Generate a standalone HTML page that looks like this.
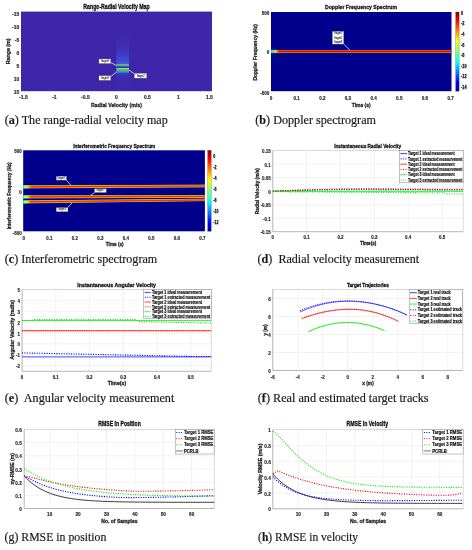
<!DOCTYPE html>
<html lang="en"><head><meta charset="utf-8"><title>Figure</title>
<style>html,body{margin:0;padding:0;background:#fff;}body{width:472px;height:550px;overflow:hidden;}svg{display:block;}</style>
</head><body>
<svg width="472" height="550" viewBox="0 0 472 550" font-family='"Liberation Sans", sans-serif'>
<defs>
<linearGradient id="jet" x1="0" y1="0" x2="0" y2="1">
<stop offset="0" stop-color="#800000"/><stop offset="0.11" stop-color="#ff0000"/><stop offset="0.36" stop-color="#ffff00"/><stop offset="0.5" stop-color="#80ff80"/><stop offset="0.64" stop-color="#00ffff"/><stop offset="0.89" stop-color="#0000ff"/><stop offset="1" stop-color="#00008f"/>
</linearGradient>
<linearGradient id="band" x1="0" y1="0" x2="0" y2="1">
<stop offset="0" stop-color="#00008a" stop-opacity="0"/><stop offset="0.12" stop-color="#00e0ff"/><stop offset="0.22" stop-color="#ffee00"/><stop offset="0.38" stop-color="#ff2000"/><stop offset="0.5" stop-color="#c00000"/><stop offset="0.62" stop-color="#ff2000"/><stop offset="0.78" stop-color="#ffee00"/><stop offset="0.88" stop-color="#00e0ff"/><stop offset="1" stop-color="#00008a" stop-opacity="0"/>
</linearGradient>
<linearGradient id="gband" x1="0" y1="0" x2="0" y2="1">
<stop offset="0" stop-color="#ecd828"/><stop offset="0.1" stop-color="#c8d838"/><stop offset="0.24" stop-color="#58c868"/><stop offset="0.55" stop-color="#28b8a0"/><stop offset="0.8" stop-color="#2894d0"/><stop offset="1" stop-color="#3858d8"/>
</linearGradient>
<linearGradient id="smear" x1="0" y1="0" x2="0" y2="1">
<stop offset="0" stop-color="#4450e0" stop-opacity="0"/><stop offset="0.3" stop-color="#4458e8" stop-opacity="0.15"/><stop offset="0.48" stop-color="#4468f8" stop-opacity="0.45"/><stop offset="0.575" stop-color="#4470ff" stop-opacity="0.7"/><stop offset="0.72" stop-color="#4460f0" stop-opacity="0.3"/><stop offset="0.8" stop-color="#4458e8" stop-opacity="0.1"/><stop offset="1" stop-color="#4450e0" stop-opacity="0.04"/>
</linearGradient>
<radialGradient id="blob"><stop offset="0" stop-color="#60ffd0"/><stop offset="0.5" stop-color="#00d0ff"/><stop offset="1" stop-color="#0040ff" stop-opacity="0"/></radialGradient>
<filter id="allblur" x="0" y="0" width="472" height="550" filterUnits="userSpaceOnUse"><feGaussianBlur stdDeviation="0.25"/></filter>
<filter id="soft" x="-5%" y="-5%" width="110%" height="110%"><feGaussianBlur stdDeviation="0.35"/></filter>
</defs>
<rect width="472" height="550" fill="#fff"/>
<g filter="url(#allblur)">
<rect x="21" y="11.6" width="191" height="79.60000000000001" fill="#3e26a8"/>
<rect x="116.4" y="28" width="12.6" height="63" fill="url(#smear)" filter="url(#soft)"/>
<rect x="116.4" y="66.5" width="12.6" height="1.7" fill="#3e2eb4"/>
<rect x="116.4" y="64.5" width="12.6" height="2.1" fill="url(#gband)"/>
<rect x="116.4" y="68.1" width="12.6" height="4.9" fill="url(#gband)"/>
<line x1="110.6" y1="62.4" x2="116.6" y2="65.6" stroke="#fff" stroke-width="0.7"/>
<rect x="98.9" y="58.9" width="11.899999999999991" height="4.700000000000003" fill="#fff" stroke="#333" stroke-width="0.3"/>
<text transform="translate(104.85 61.25) scale(0.800 1)" font-size="3.09" text-anchor="middle" font-weight="normal" fill="#222" stroke="#222" stroke-width="0.1" dominant-baseline="central">Target3</text>
<line x1="110.6" y1="76.6" x2="116.6" y2="72" stroke="#fff" stroke-width="0.7"/>
<rect x="98.9" y="75.6" width="11.899999999999991" height="4.800000000000011" fill="#fff" stroke="#333" stroke-width="0.3"/>
<text transform="translate(104.85 78.00) scale(0.800 1)" font-size="3.09" text-anchor="middle" font-weight="normal" fill="#222" stroke="#222" stroke-width="0.1" dominant-baseline="central">Target1</text>
<line x1="134.4" y1="73.9" x2="128.9" y2="70" stroke="#fff" stroke-width="0.7"/>
<rect x="134.2" y="73.2" width="12.600000000000023" height="5.0" fill="#fff" stroke="#333" stroke-width="0.3"/>
<text transform="translate(140.50 75.70) scale(0.800 1)" font-size="3.09" text-anchor="middle" font-weight="normal" fill="#222" stroke="#222" stroke-width="0.1" dominant-baseline="central">Target2</text>
<text transform="translate(116.50 6.80) scale(0.829 1)" font-size="6.31" text-anchor="middle" font-weight="bold" fill="#111" stroke="#111" stroke-width="0.28" dominant-baseline="central">Range-Radial Velocity Map</text>
<text transform="translate(19.30 13.40) scale(0.800 1)" font-size="6.25" text-anchor="end" font-weight="bold" fill="#222" stroke="#222" stroke-width="0.15" dominant-baseline="central">-15</text>
<text transform="translate(19.30 26.45) scale(0.800 1)" font-size="6.25" text-anchor="end" font-weight="bold" fill="#222" stroke="#222" stroke-width="0.15" dominant-baseline="central">-10</text>
<text transform="translate(19.30 39.50) scale(0.800 1)" font-size="6.25" text-anchor="end" font-weight="bold" fill="#222" stroke="#222" stroke-width="0.15" dominant-baseline="central">-5</text>
<text transform="translate(19.30 52.55) scale(0.800 1)" font-size="6.25" text-anchor="end" font-weight="bold" fill="#222" stroke="#222" stroke-width="0.15" dominant-baseline="central">0</text>
<text transform="translate(19.30 65.60) scale(0.800 1)" font-size="6.25" text-anchor="end" font-weight="bold" fill="#222" stroke="#222" stroke-width="0.15" dominant-baseline="central">5</text>
<text transform="translate(19.30 78.65) scale(0.800 1)" font-size="6.25" text-anchor="end" font-weight="bold" fill="#222" stroke="#222" stroke-width="0.15" dominant-baseline="central">10</text>
<text transform="translate(19.30 91.70) scale(0.800 1)" font-size="6.25" text-anchor="end" font-weight="bold" fill="#222" stroke="#222" stroke-width="0.15" dominant-baseline="central">15</text>
<text transform="translate(23.40 96.70) scale(0.800 1)" font-size="6.25" text-anchor="middle" font-weight="bold" fill="#222" stroke="#222" stroke-width="0.15" dominant-baseline="central">-1.5</text>
<text transform="translate(54.40 96.70) scale(0.800 1)" font-size="6.25" text-anchor="middle" font-weight="bold" fill="#222" stroke="#222" stroke-width="0.15" dominant-baseline="central">-1</text>
<text transform="translate(85.40 96.70) scale(0.800 1)" font-size="6.25" text-anchor="middle" font-weight="bold" fill="#222" stroke="#222" stroke-width="0.15" dominant-baseline="central">-0.5</text>
<text transform="translate(116.40 96.70) scale(0.800 1)" font-size="6.25" text-anchor="middle" font-weight="bold" fill="#222" stroke="#222" stroke-width="0.15" dominant-baseline="central">0</text>
<text transform="translate(147.40 96.70) scale(0.800 1)" font-size="6.25" text-anchor="middle" font-weight="bold" fill="#222" stroke="#222" stroke-width="0.15" dominant-baseline="central">0.5</text>
<text transform="translate(178.40 96.70) scale(0.800 1)" font-size="6.25" text-anchor="middle" font-weight="bold" fill="#222" stroke="#222" stroke-width="0.15" dominant-baseline="central">1</text>
<text transform="translate(209.40 96.70) scale(0.800 1)" font-size="6.25" text-anchor="middle" font-weight="bold" fill="#222" stroke="#222" stroke-width="0.15" dominant-baseline="central">1.5</text>
<text transform="translate(116.50 104.50) scale(0.864 1)" font-size="6.07" text-anchor="middle" font-weight="bold" fill="#222" stroke="#222" stroke-width="0.28" dominant-baseline="central">Radial Velocity (m/s)</text>
<text transform="translate(7.95 51.40) rotate(-90) scale(0.876 1)" font-size="6.07" text-anchor="middle" font-weight="bold" fill="#222" stroke="#222" stroke-width="0.28" dominant-baseline="central">Range (m)</text>
<text x="4.80" y="124.20" font-size="12" font-family='"Liberation Serif", serif' fill="#1a1a1a" stroke="#1a1a1a" stroke-width="0.18" textLength="163.0" lengthAdjust="spacingAndGlyphs" xml:space="preserve">(<tspan font-weight="bold">a</tspan>) The range-radial velocity map</text>
<rect x="271" y="12" width="180.5" height="79.2" fill="#00008d"/>
<linearGradient id="bh1" gradientUnits="userSpaceOnUse" x1="271" y1="0" x2="280.5" y2="0"><stop offset="0" stop-color="#00c8ff" stop-opacity="0.9"/><stop offset="0.25" stop-color="#30e0c0" stop-opacity="0.8"/><stop offset="0.5" stop-color="#40b0ff" stop-opacity="0.55"/><stop offset="1" stop-color="#2060ff" stop-opacity="0.55"/></linearGradient>
<linearGradient id="by1" gradientUnits="userSpaceOnUse" x1="271" y1="0" x2="280.5" y2="0"><stop offset="0" stop-color="#20e0e0" stop-opacity="1"/><stop offset="0.15" stop-color="#60ffa0" stop-opacity="1"/><stop offset="0.4" stop-color="#ffee00" stop-opacity="1"/><stop offset="1" stop-color="#ffd800" stop-opacity="1"/></linearGradient>
<linearGradient id="bm1" gradientUnits="userSpaceOnUse" x1="271" y1="0" x2="280.5" y2="0"><stop offset="0" stop-color="#20e0e0" stop-opacity="1"/><stop offset="0.2" stop-color="#a0ff60" stop-opacity="1"/><stop offset="0.45" stop-color="#ffe000" stop-opacity="1"/><stop offset="0.8" stop-color="#f85000" stop-opacity="1"/><stop offset="1" stop-color="#f85000" stop-opacity="1"/></linearGradient>
<linearGradient id="bc1" gradientUnits="userSpaceOnUse" x1="271" y1="0" x2="280.5" y2="0"><stop offset="0" stop-color="#40ffc0" stop-opacity="1"/><stop offset="0.25" stop-color="#d0ff30" stop-opacity="1"/><stop offset="0.5" stop-color="#ffd000" stop-opacity="1"/><stop offset="0.85" stop-color="#d41400" stop-opacity="1"/><stop offset="1" stop-color="#d41400" stop-opacity="1"/></linearGradient>
<polygon points="271,49.65 451.5,49.65 451.5,53.15 271,53.15" fill="url(#bh1)"/>
<polygon points="271,50.00 451.5,50.00 451.5,52.80 271,52.80" fill="url(#by1)"/>
<polygon points="271,50.25 451.5,50.25 451.5,52.55 271,52.55" fill="url(#bm1)"/>
<polygon points="271,50.55 451.5,50.55 451.5,52.25 271,52.25" fill="url(#bc1)"/>
<ellipse cx="272.6" cy="51.4" rx="2.2" ry="2.3" fill="url(#blob)" opacity="0.8"/>
<line x1="343.6" y1="44" x2="350" y2="50.2" stroke="#fff" stroke-width="0.7"/>
<rect x="332.3" y="31.2" width="11.5" height="13.000000000000004" fill="#fff" stroke="#333" stroke-width="0.3"/>
<text transform="translate(338.05 33.37) scale(0.800 1)" font-size="3.09" text-anchor="middle" font-weight="normal" fill="#222" stroke="#222" stroke-width="0.1" dominant-baseline="central">Target1</text>
<text transform="translate(338.05 37.70) scale(0.800 1)" font-size="3.09" text-anchor="middle" font-weight="normal" fill="#222" stroke="#222" stroke-width="0.1" dominant-baseline="central">Target2</text>
<text transform="translate(338.05 42.03) scale(0.800 1)" font-size="3.09" text-anchor="middle" font-weight="normal" fill="#222" stroke="#222" stroke-width="0.1" dominant-baseline="central">Target3</text>
<rect x="455.7" y="12" width="3.4" height="79.2" fill="url(#jet)" stroke="#555" stroke-width="0.3"/>
<text transform="translate(461.00 13.00) scale(0.800 1)" font-size="4.88" text-anchor="start" font-weight="bold" fill="#222" stroke="#222" stroke-width="0.28" dominant-baseline="central">0</text>
<text transform="translate(461.00 23.62) scale(0.800 1)" font-size="4.88" text-anchor="start" font-weight="bold" fill="#222" stroke="#222" stroke-width="0.28" dominant-baseline="central">-2</text>
<text transform="translate(461.00 34.24) scale(0.800 1)" font-size="4.88" text-anchor="start" font-weight="bold" fill="#222" stroke="#222" stroke-width="0.28" dominant-baseline="central">-4</text>
<text transform="translate(461.00 44.86) scale(0.800 1)" font-size="4.88" text-anchor="start" font-weight="bold" fill="#222" stroke="#222" stroke-width="0.28" dominant-baseline="central">-6</text>
<text transform="translate(461.00 55.48) scale(0.800 1)" font-size="4.88" text-anchor="start" font-weight="bold" fill="#222" stroke="#222" stroke-width="0.28" dominant-baseline="central">-8</text>
<text transform="translate(461.00 66.10) scale(0.800 1)" font-size="4.88" text-anchor="start" font-weight="bold" fill="#222" stroke="#222" stroke-width="0.28" dominant-baseline="central">-10</text>
<text transform="translate(461.00 76.72) scale(0.800 1)" font-size="4.88" text-anchor="start" font-weight="bold" fill="#222" stroke="#222" stroke-width="0.28" dominant-baseline="central">-12</text>
<text transform="translate(461.00 87.34) scale(0.800 1)" font-size="4.88" text-anchor="start" font-weight="bold" fill="#222" stroke="#222" stroke-width="0.28" dominant-baseline="central">-14</text>
<text transform="translate(361.00 6.70) scale(0.831 1)" font-size="6.19" text-anchor="middle" font-weight="bold" fill="#111" stroke="#111" stroke-width="0.28" dominant-baseline="central">Doppler Frequency Spectrum</text>
<text transform="translate(269.30 12.70) scale(0.800 1)" font-size="5.71" text-anchor="end" font-weight="bold" fill="#222" stroke="#222" stroke-width="0.15" dominant-baseline="central">500</text>
<text transform="translate(269.30 52.10) scale(0.800 1)" font-size="5.71" text-anchor="end" font-weight="bold" fill="#222" stroke="#222" stroke-width="0.15" dominant-baseline="central">0</text>
<text transform="translate(269.30 92.50) scale(0.800 1)" font-size="5.71" text-anchor="end" font-weight="bold" fill="#222" stroke="#222" stroke-width="0.15" dominant-baseline="central">-500</text>
<text transform="translate(271.00 97.30) scale(0.800 1)" font-size="5.71" text-anchor="middle" font-weight="bold" fill="#222" stroke="#222" stroke-width="0.15" dominant-baseline="central">0</text>
<text transform="translate(296.65 97.30) scale(0.800 1)" font-size="5.71" text-anchor="middle" font-weight="bold" fill="#222" stroke="#222" stroke-width="0.15" dominant-baseline="central">0.1</text>
<text transform="translate(322.30 97.30) scale(0.800 1)" font-size="5.71" text-anchor="middle" font-weight="bold" fill="#222" stroke="#222" stroke-width="0.15" dominant-baseline="central">0.2</text>
<text transform="translate(347.95 97.30) scale(0.800 1)" font-size="5.71" text-anchor="middle" font-weight="bold" fill="#222" stroke="#222" stroke-width="0.15" dominant-baseline="central">0.3</text>
<text transform="translate(373.60 97.30) scale(0.800 1)" font-size="5.71" text-anchor="middle" font-weight="bold" fill="#222" stroke="#222" stroke-width="0.15" dominant-baseline="central">0.4</text>
<text transform="translate(399.25 97.30) scale(0.800 1)" font-size="5.71" text-anchor="middle" font-weight="bold" fill="#222" stroke="#222" stroke-width="0.15" dominant-baseline="central">0.5</text>
<text transform="translate(424.90 97.30) scale(0.800 1)" font-size="5.71" text-anchor="middle" font-weight="bold" fill="#222" stroke="#222" stroke-width="0.15" dominant-baseline="central">0.6</text>
<text transform="translate(450.55 97.30) scale(0.800 1)" font-size="5.71" text-anchor="middle" font-weight="bold" fill="#222" stroke="#222" stroke-width="0.15" dominant-baseline="central">0.7</text>
<text transform="translate(361.20 104.60) scale(0.872 1)" font-size="5.71" text-anchor="middle" font-weight="bold" fill="#222" stroke="#222" stroke-width="0.28" dominant-baseline="central">Time (s)</text>
<text transform="translate(255.35 52.40) rotate(-90) scale(0.879 1)" font-size="5.71" text-anchor="middle" font-weight="bold" fill="#222" stroke="#222" stroke-width="0.28" dominant-baseline="central">Doppler Frequency (Hz)</text>
<text x="255.30" y="124.20" font-size="12" font-family='"Liberation Serif", serif' fill="#1a1a1a" stroke="#1a1a1a" stroke-width="0.18" textLength="120.7" lengthAdjust="spacingAndGlyphs" xml:space="preserve">(<tspan font-weight="bold">b</tspan>) Doppler spectrogram</text>
<rect x="23.2" y="150.3" width="181.70000000000002" height="81.0" fill="#00008d"/>
<clipPath id="clipc"><rect x="23.2" y="150.3" width="181.70000000000002" height="81.0"/></clipPath><g clip-path="url(#clipc)">
<linearGradient id="bh2" gradientUnits="userSpaceOnUse" x1="23.2" y1="0" x2="32.7" y2="0"><stop offset="0" stop-color="#00c8ff" stop-opacity="0.9"/><stop offset="0.25" stop-color="#30e0c0" stop-opacity="0.8"/><stop offset="0.5" stop-color="#40b0ff" stop-opacity="0.55"/><stop offset="1" stop-color="#2060ff" stop-opacity="0.55"/></linearGradient>
<linearGradient id="by2" gradientUnits="userSpaceOnUse" x1="23.2" y1="0" x2="32.7" y2="0"><stop offset="0" stop-color="#20e0e0" stop-opacity="1"/><stop offset="0.15" stop-color="#60ffa0" stop-opacity="1"/><stop offset="0.4" stop-color="#ffee00" stop-opacity="1"/><stop offset="1" stop-color="#ffd800" stop-opacity="1"/></linearGradient>
<linearGradient id="bm2" gradientUnits="userSpaceOnUse" x1="23.2" y1="0" x2="32.7" y2="0"><stop offset="0" stop-color="#20e0e0" stop-opacity="1"/><stop offset="0.2" stop-color="#a0ff60" stop-opacity="1"/><stop offset="0.45" stop-color="#ffe000" stop-opacity="1"/><stop offset="0.8" stop-color="#ff8000" stop-opacity="1"/><stop offset="1" stop-color="#ff8000" stop-opacity="1"/></linearGradient>
<linearGradient id="bc2" gradientUnits="userSpaceOnUse" x1="23.2" y1="0" x2="32.7" y2="0"><stop offset="0" stop-color="#40ffc0" stop-opacity="1"/><stop offset="0.25" stop-color="#d0ff30" stop-opacity="1"/><stop offset="0.5" stop-color="#ffd000" stop-opacity="1"/><stop offset="0.85" stop-color="#ec3400" stop-opacity="1"/><stop offset="1" stop-color="#ec3400" stop-opacity="1"/></linearGradient>
<polygon points="23.2,185.05 204.9,184.48 204.9,187.52 23.2,188.75" fill="url(#bh2)"/>
<polygon points="23.2,185.47 204.9,184.83 204.9,187.17 23.2,188.33" fill="url(#by2)"/>
<polygon points="23.2,185.86 204.9,185.14 204.9,186.86 23.2,187.94" fill="url(#bm2)"/>
<polygon points="23.2,186.24 204.9,185.45 204.9,186.55 23.2,187.56" fill="url(#bc2)"/>
<linearGradient id="bh3" gradientUnits="userSpaceOnUse" x1="23.2" y1="0" x2="32.7" y2="0"><stop offset="0" stop-color="#00c8ff" stop-opacity="0.9"/><stop offset="0.25" stop-color="#30e0c0" stop-opacity="0.8"/><stop offset="0.5" stop-color="#40b0ff" stop-opacity="0.55"/><stop offset="1" stop-color="#2060ff" stop-opacity="0.55"/></linearGradient>
<linearGradient id="by3" gradientUnits="userSpaceOnUse" x1="23.2" y1="0" x2="32.7" y2="0"><stop offset="0" stop-color="#20e0e0" stop-opacity="1"/><stop offset="0.15" stop-color="#60ffa0" stop-opacity="1"/><stop offset="0.4" stop-color="#ffee00" stop-opacity="1"/><stop offset="1" stop-color="#ffd800" stop-opacity="1"/></linearGradient>
<linearGradient id="bm3" gradientUnits="userSpaceOnUse" x1="23.2" y1="0" x2="32.7" y2="0"><stop offset="0" stop-color="#20e0e0" stop-opacity="1"/><stop offset="0.2" stop-color="#a0ff60" stop-opacity="1"/><stop offset="0.45" stop-color="#ffe000" stop-opacity="1"/><stop offset="0.8" stop-color="#ff8000" stop-opacity="1"/><stop offset="1" stop-color="#ff8000" stop-opacity="1"/></linearGradient>
<linearGradient id="bc3" gradientUnits="userSpaceOnUse" x1="23.2" y1="0" x2="32.7" y2="0"><stop offset="0" stop-color="#40ffc0" stop-opacity="1"/><stop offset="0.25" stop-color="#d0ff30" stop-opacity="1"/><stop offset="0.5" stop-color="#ffd000" stop-opacity="1"/><stop offset="0.85" stop-color="#ec3400" stop-opacity="1"/><stop offset="1" stop-color="#ec3400" stop-opacity="1"/></linearGradient>
<polygon points="23.2,195.05 204.9,194.98 204.9,198.02 23.2,198.75" fill="url(#bh3)"/>
<polygon points="23.2,195.47 204.9,195.33 204.9,197.67 23.2,198.33" fill="url(#by3)"/>
<polygon points="23.2,195.86 204.9,195.64 204.9,197.36 23.2,197.94" fill="url(#bm3)"/>
<polygon points="23.2,196.24 204.9,195.95 204.9,197.05 23.2,197.56" fill="url(#bc3)"/>
<linearGradient id="bh4" gradientUnits="userSpaceOnUse" x1="23.2" y1="0" x2="32.7" y2="0"><stop offset="0" stop-color="#00c8ff" stop-opacity="0.9"/><stop offset="0.25" stop-color="#30e0c0" stop-opacity="0.8"/><stop offset="0.5" stop-color="#40b0ff" stop-opacity="0.55"/><stop offset="1" stop-color="#2060ff" stop-opacity="0.55"/></linearGradient>
<linearGradient id="by4" gradientUnits="userSpaceOnUse" x1="23.2" y1="0" x2="32.7" y2="0"><stop offset="0" stop-color="#20e0e0" stop-opacity="1"/><stop offset="0.15" stop-color="#60ffa0" stop-opacity="1"/><stop offset="0.4" stop-color="#ffee00" stop-opacity="1"/><stop offset="1" stop-color="#ffd800" stop-opacity="1"/></linearGradient>
<linearGradient id="bm4" gradientUnits="userSpaceOnUse" x1="23.2" y1="0" x2="32.7" y2="0"><stop offset="0" stop-color="#20e0e0" stop-opacity="1"/><stop offset="0.2" stop-color="#a0ff60" stop-opacity="1"/><stop offset="0.45" stop-color="#ffe000" stop-opacity="1"/><stop offset="0.8" stop-color="#ff8000" stop-opacity="1"/><stop offset="1" stop-color="#ff8000" stop-opacity="1"/></linearGradient>
<linearGradient id="bc4" gradientUnits="userSpaceOnUse" x1="23.2" y1="0" x2="32.7" y2="0"><stop offset="0" stop-color="#40ffc0" stop-opacity="1"/><stop offset="0.25" stop-color="#d0ff30" stop-opacity="1"/><stop offset="0.5" stop-color="#ffd000" stop-opacity="1"/><stop offset="0.85" stop-color="#ec3400" stop-opacity="1"/><stop offset="1" stop-color="#ec3400" stop-opacity="1"/></linearGradient>
<polygon points="23.2,200.15 204.9,198.50 204.9,201.30 23.2,203.66" fill="url(#bh4)"/>
<polygon points="23.2,200.55 204.9,198.82 204.9,200.98 23.2,203.25" fill="url(#by4)"/>
<polygon points="23.2,200.91 204.9,199.11 204.9,200.69 23.2,202.89" fill="url(#bm4)"/>
<polygon points="23.2,201.27 204.9,199.40 204.9,200.40 23.2,202.53" fill="url(#bc4)"/>
</g>
<line x1="66.2" y1="180" x2="70.8" y2="185.2" stroke="#fff" stroke-width="0.7"/>
<rect x="56.2" y="176.1" width="10.399999999999991" height="4.099999999999994" fill="#fff" stroke="#333" stroke-width="0.3"/>
<text transform="translate(61.40 178.15) scale(0.800 1)" font-size="2.86" text-anchor="middle" font-weight="normal" fill="#222" stroke="#222" stroke-width="0.1" dominant-baseline="central">Target 1</text>
<line x1="95" y1="192.3" x2="91" y2="195.2" stroke="#fff" stroke-width="0.7"/>
<rect x="94.5" y="188.7" width="11.799999999999997" height="3.9000000000000057" fill="#fff" stroke="#333" stroke-width="0.3"/>
<text transform="translate(100.40 190.65) scale(0.800 1)" font-size="2.86" text-anchor="middle" font-weight="normal" fill="#222" stroke="#222" stroke-width="0.1" dominant-baseline="central">Target 2</text>
<line x1="67.5" y1="207.8" x2="72" y2="203" stroke="#fff" stroke-width="0.7"/>
<rect x="56.2" y="207.5" width="11.799999999999997" height="4.300000000000011" fill="#fff" stroke="#333" stroke-width="0.3"/>
<text transform="translate(62.10 209.65) scale(0.800 1)" font-size="2.86" text-anchor="middle" font-weight="normal" fill="#222" stroke="#222" stroke-width="0.1" dominant-baseline="central">Target 3</text>
<rect x="207.7" y="150.3" width="3.5" height="81.0" fill="url(#jet)" stroke="#555" stroke-width="0.3"/>
<text transform="translate(213.20 156.80) scale(0.800 1)" font-size="4.52" text-anchor="start" font-weight="bold" fill="#222" stroke="#222" stroke-width="0.28" dominant-baseline="central">0</text>
<text transform="translate(213.20 167.70) scale(0.800 1)" font-size="4.52" text-anchor="start" font-weight="bold" fill="#222" stroke="#222" stroke-width="0.28" dominant-baseline="central">-2</text>
<text transform="translate(213.20 178.60) scale(0.800 1)" font-size="4.52" text-anchor="start" font-weight="bold" fill="#222" stroke="#222" stroke-width="0.28" dominant-baseline="central">-4</text>
<text transform="translate(213.20 189.50) scale(0.800 1)" font-size="4.52" text-anchor="start" font-weight="bold" fill="#222" stroke="#222" stroke-width="0.28" dominant-baseline="central">-6</text>
<text transform="translate(213.20 200.40) scale(0.800 1)" font-size="4.52" text-anchor="start" font-weight="bold" fill="#222" stroke="#222" stroke-width="0.28" dominant-baseline="central">-8</text>
<text transform="translate(213.20 211.30) scale(0.800 1)" font-size="4.52" text-anchor="start" font-weight="bold" fill="#222" stroke="#222" stroke-width="0.28" dominant-baseline="central">-10</text>
<text transform="translate(213.20 222.20) scale(0.800 1)" font-size="4.52" text-anchor="start" font-weight="bold" fill="#222" stroke="#222" stroke-width="0.28" dominant-baseline="central">-12</text>
<text transform="translate(114.30 145.40) scale(0.799 1)" font-size="5.95" text-anchor="middle" font-weight="bold" fill="#111" stroke="#111" stroke-width="0.28" dominant-baseline="central">Interferometric Frequency Spectrum</text>
<text transform="translate(21.80 151.20) scale(0.800 1)" font-size="5.59" text-anchor="end" font-weight="bold" fill="#222" stroke="#222" stroke-width="0.15" dominant-baseline="central">500</text>
<text transform="translate(21.80 191.90) scale(0.800 1)" font-size="5.59" text-anchor="end" font-weight="bold" fill="#222" stroke="#222" stroke-width="0.15" dominant-baseline="central">0</text>
<text transform="translate(21.80 232.70) scale(0.800 1)" font-size="5.59" text-anchor="end" font-weight="bold" fill="#222" stroke="#222" stroke-width="0.15" dominant-baseline="central">-500</text>
<text transform="translate(23.80 237.30) scale(0.800 1)" font-size="5.59" text-anchor="middle" font-weight="bold" fill="#222" stroke="#222" stroke-width="0.15" dominant-baseline="central">0</text>
<text transform="translate(49.30 237.30) scale(0.800 1)" font-size="5.59" text-anchor="middle" font-weight="bold" fill="#222" stroke="#222" stroke-width="0.15" dominant-baseline="central">0.1</text>
<text transform="translate(74.80 237.30) scale(0.800 1)" font-size="5.59" text-anchor="middle" font-weight="bold" fill="#222" stroke="#222" stroke-width="0.15" dominant-baseline="central">0.2</text>
<text transform="translate(100.30 237.30) scale(0.800 1)" font-size="5.59" text-anchor="middle" font-weight="bold" fill="#222" stroke="#222" stroke-width="0.15" dominant-baseline="central">0.3</text>
<text transform="translate(125.80 237.30) scale(0.800 1)" font-size="5.59" text-anchor="middle" font-weight="bold" fill="#222" stroke="#222" stroke-width="0.15" dominant-baseline="central">0.4</text>
<text transform="translate(151.30 237.30) scale(0.800 1)" font-size="5.59" text-anchor="middle" font-weight="bold" fill="#222" stroke="#222" stroke-width="0.15" dominant-baseline="central">0.5</text>
<text transform="translate(176.80 237.30) scale(0.800 1)" font-size="5.59" text-anchor="middle" font-weight="bold" fill="#222" stroke="#222" stroke-width="0.15" dominant-baseline="central">0.6</text>
<text transform="translate(202.30 237.30) scale(0.800 1)" font-size="5.59" text-anchor="middle" font-weight="bold" fill="#222" stroke="#222" stroke-width="0.15" dominant-baseline="central">0.7</text>
<text transform="translate(114.70 243.80) scale(0.834 1)" font-size="5.59" text-anchor="middle" font-weight="bold" fill="#222" stroke="#222" stroke-width="0.28" dominant-baseline="central">Time (s)</text>
<text transform="translate(9.05 195.90) rotate(-90) scale(0.841 1)" font-size="5.47" text-anchor="middle" font-weight="bold" fill="#222" stroke="#222" stroke-width="0.28" dominant-baseline="central">Interferometric Frequency (Hz)</text>
<text x="4.80" y="263.00" font-size="12" font-family='"Liberation Serif", serif' fill="#1a1a1a" stroke="#1a1a1a" stroke-width="0.18" textLength="152.4" lengthAdjust="spacingAndGlyphs" xml:space="preserve">(<tspan font-weight="bold">c</tspan>) Interferometric spectrogram</text>
<rect x="272.8" y="150.5" width="190.39999999999998" height="81.19999999999999" fill="#fff"/>
<line x1="306.65" y1="150.5" x2="306.65" y2="231.7" stroke="#e4e4e4" stroke-width="0.5"/>
<line x1="340.50" y1="150.5" x2="340.50" y2="231.7" stroke="#e4e4e4" stroke-width="0.5"/>
<line x1="374.35" y1="150.5" x2="374.35" y2="231.7" stroke="#e4e4e4" stroke-width="0.5"/>
<line x1="408.20" y1="150.5" x2="408.20" y2="231.7" stroke="#e4e4e4" stroke-width="0.5"/>
<line x1="442.05" y1="150.5" x2="442.05" y2="231.7" stroke="#e4e4e4" stroke-width="0.5"/>
<line x1="272.8" y1="164.03" x2="463.2" y2="164.03" stroke="#e4e4e4" stroke-width="0.5"/>
<line x1="272.8" y1="177.56" x2="463.2" y2="177.56" stroke="#e4e4e4" stroke-width="0.5"/>
<line x1="272.8" y1="191.09" x2="463.2" y2="191.09" stroke="#e4e4e4" stroke-width="0.5"/>
<line x1="272.8" y1="204.62" x2="463.2" y2="204.62" stroke="#e4e4e4" stroke-width="0.5"/>
<line x1="272.8" y1="218.15" x2="463.2" y2="218.15" stroke="#e4e4e4" stroke-width="0.5"/>
<path d="M272.80,191.20 L275.98,191.20 L279.15,191.20 L282.33,191.20 L285.51,191.20 L288.68,191.20 L291.86,191.20 L295.03,191.20 L298.21,191.20 L301.39,191.20 L304.56,191.20 L307.74,191.20 L310.92,191.20 L314.09,191.20 L317.27,191.20 L320.44,191.20 L323.62,191.20 L326.80,191.20 L329.97,191.20 L333.15,191.20 L336.33,191.20 L339.50,191.20 L342.68,191.20 L345.85,191.20 L349.03,191.20 L352.21,191.20 L355.38,191.20 L358.56,191.20 L361.74,191.20 L364.91,191.20 L368.09,191.20 L371.26,191.20 L374.44,191.20 L377.62,191.20 L380.79,191.20 L383.97,191.20 L387.15,191.20 L390.32,191.20 L393.50,191.20 L396.67,191.20 L399.85,191.20 L403.03,191.20 L406.20,191.20 L409.38,191.20 L412.56,191.20 L415.73,191.20 L418.91,191.20 L422.08,191.20 L425.26,191.20 L428.44,191.20 L431.61,191.20 L434.79,191.20 L437.97,191.20 L441.14,191.20 L444.32,191.20 L447.49,191.20 L450.67,191.20 L453.85,191.20 L457.02,191.20 L460.20,191.20 L463.38,191.20" fill="none" stroke="#00f000" stroke-width="1.0" stroke-linejoin="round" opacity="1"/>
<path d="M272.80,191.20 L275.98,191.09 L279.15,190.98 L282.33,190.87 L285.51,190.76 L288.68,190.65 L291.86,190.54 L295.03,190.44 L298.21,190.34 L301.39,190.24 L304.56,190.15 L307.74,190.06 L310.92,189.97 L314.09,189.89 L317.27,189.81 L320.44,189.73 L323.62,189.67 L326.80,189.60 L329.97,189.55 L333.15,189.49 L336.33,189.45 L339.50,189.41 L342.68,189.38 L345.85,189.35 L349.03,189.33 L352.21,189.31 L355.38,189.31 L358.56,189.31 L361.74,189.31 L364.91,189.31 L368.09,189.31 L371.26,189.31 L374.44,189.31 L377.62,189.32 L380.79,189.34 L383.97,189.36 L387.15,189.37 L390.32,189.39 L393.50,189.41 L396.67,189.43 L399.85,189.44 L403.03,189.46 L406.20,189.48 L409.38,189.49 L412.56,189.51 L415.73,189.53 L418.91,189.55 L422.08,189.56 L425.26,189.58 L428.44,189.60 L431.61,189.61 L434.79,189.63 L437.97,189.65 L441.14,189.67 L444.32,189.68 L447.49,189.70 L450.67,189.72 L453.85,189.73 L457.02,189.75 L460.20,189.77 L463.38,189.78" fill="none" stroke="#0000ff" stroke-width="1.1" stroke-dasharray="1.1 1.35" stroke-linejoin="round" opacity="1"/>
<path d="M272.80,191.20 L275.98,191.06 L279.15,190.93 L282.33,190.80 L285.51,190.66 L288.68,190.53 L291.86,190.40 L295.03,190.28 L298.21,190.15 L301.39,190.04 L304.56,189.92 L307.74,189.81 L310.92,189.71 L314.09,189.60 L317.27,189.51 L320.44,189.42 L323.62,189.34 L326.80,189.26 L329.97,189.19 L333.15,189.13 L336.33,189.07 L339.50,189.03 L342.68,188.99 L345.85,188.95 L349.03,188.93 L352.21,188.91 L355.38,188.90 L358.56,188.90 L361.74,188.90 L364.91,188.90 L368.09,188.90 L371.26,188.90 L374.44,188.90 L377.62,188.92 L380.79,188.93 L383.97,188.95 L387.15,188.97 L390.32,188.98 L393.50,189.00 L396.67,189.02 L399.85,189.03 L403.03,189.05 L406.20,189.07 L409.38,189.08 L412.56,189.10 L415.73,189.12 L418.91,189.13 L422.08,189.15 L425.26,189.17 L428.44,189.18 L431.61,189.20 L434.79,189.22 L437.97,189.23 L441.14,189.25 L444.32,189.27 L447.49,189.28 L450.67,189.30 L453.85,189.32 L457.02,189.33 L460.20,189.35 L463.38,189.37" fill="none" stroke="#ff0000" stroke-width="1.1" stroke-dasharray="1.1 1.35" stroke-linejoin="round" opacity="1"/>
<path d="M272.80,191.74 L275.98,191.76 L279.15,191.78 L282.33,191.80 L285.51,191.82 L288.68,191.84 L291.86,191.86 L295.03,191.88 L298.21,191.90 L301.39,191.92 L304.56,191.94 L307.74,191.96 L310.92,191.98 L314.09,192.01 L317.27,192.03 L320.44,192.05 L323.62,192.07 L326.80,192.09 L329.97,192.11 L333.15,192.13 L336.33,192.15 L339.50,192.17 L342.68,192.19 L345.85,192.21 L349.03,192.23 L352.21,192.25 L355.38,192.27 L358.56,192.29 L361.74,192.31 L364.91,192.33 L368.09,192.35 L371.26,192.37 L374.44,192.39 L377.62,192.41 L380.79,192.43 L383.97,192.45 L387.15,192.47 L390.32,192.49 L393.50,192.51 L396.67,192.53 L399.85,192.55 L403.03,192.57 L406.20,192.59 L409.38,192.61 L412.56,192.63 L415.73,192.66 L418.91,192.68 L422.08,192.70 L425.26,192.72 L428.44,192.74 L431.61,192.76 L434.79,192.78 L437.97,192.80 L441.14,192.82 L444.32,192.84 L447.49,193.94 L450.67,193.96 L453.85,193.98 L457.02,194.00 L460.20,194.02 L463.38,194.04" fill="none" stroke="#00ee00" stroke-width="1.1" stroke-dasharray="1.1 1.35" stroke-linejoin="round" opacity="1"/>
<path d="M272.8,150.5 L463.2,150.5 L463.2,231.7" fill="none" stroke="#b4b4b4" stroke-width="0.5"/>
<path d="M272.8,150.5 L272.8,231.7 L463.2,231.7" fill="none" stroke="#6a6a6a" stroke-width="0.5"/>
<rect x="399.6" y="150.5" width="63.5" height="32.30000000000001" fill="#fff" stroke="#777" stroke-width="0.45"/>
<line x1="400.3" y1="153.60" x2="406.9" y2="153.60" stroke="#0000ff" stroke-width="0.75"/>
<text transform="translate(408.00 153.60) scale(0.740 1)" font-size="4.80" text-anchor="start" font-weight="bold" fill="#111" stroke="#111" stroke-width="0.2" dominant-baseline="central">Target 1 ideal measurement</text>
<line x1="400.3" y1="158.88" x2="406.9" y2="158.88" stroke="#0000ff" stroke-width="1.0" stroke-dasharray="1.0 1.4" stroke-dashoffset="-0.3"/>
<text transform="translate(408.00 158.88) scale(0.740 1)" font-size="4.80" text-anchor="start" font-weight="bold" fill="#111" stroke="#111" stroke-width="0.2" dominant-baseline="central">Target 1 extracted measurement</text>
<line x1="400.3" y1="164.16" x2="406.9" y2="164.16" stroke="#ff0000" stroke-width="0.75"/>
<text transform="translate(408.00 164.16) scale(0.740 1)" font-size="4.80" text-anchor="start" font-weight="bold" fill="#111" stroke="#111" stroke-width="0.2" dominant-baseline="central">Target 2 ideal measurement</text>
<line x1="400.3" y1="169.44" x2="406.9" y2="169.44" stroke="#ff0000" stroke-width="1.0" stroke-dasharray="1.0 1.4" stroke-dashoffset="-0.3"/>
<text transform="translate(408.00 169.44) scale(0.740 1)" font-size="4.80" text-anchor="start" font-weight="bold" fill="#111" stroke="#111" stroke-width="0.2" dominant-baseline="central">Target 2 extracted measurement</text>
<line x1="400.3" y1="174.72" x2="406.9" y2="174.72" stroke="#00ee00" stroke-width="0.75"/>
<text transform="translate(408.00 174.72) scale(0.740 1)" font-size="4.80" text-anchor="start" font-weight="bold" fill="#111" stroke="#111" stroke-width="0.2" dominant-baseline="central">Target 3 ideal measurement</text>
<line x1="400.3" y1="180.00" x2="406.9" y2="180.00" stroke="#00ee00" stroke-width="1.0" stroke-dasharray="1.0 1.4" stroke-dashoffset="-0.3"/>
<text transform="translate(408.00 180.00) scale(0.740 1)" font-size="4.80" text-anchor="start" font-weight="bold" fill="#111" stroke="#111" stroke-width="0.2" dominant-baseline="central">Target 3 extracted measurement</text>
<text transform="translate(367.60 145.40) scale(0.798 1)" font-size="5.95" text-anchor="middle" font-weight="bold" fill="#111" stroke="#111" stroke-width="0.28" dominant-baseline="central">Instantaneous Radial Velocity</text>
<text transform="translate(270.80 150.90) scale(0.800 1)" font-size="5.59" text-anchor="end" font-weight="bold" fill="#222" stroke="#222" stroke-width="0.15" dominant-baseline="central">0.15</text>
<text transform="translate(270.80 164.43) scale(0.800 1)" font-size="5.59" text-anchor="end" font-weight="bold" fill="#222" stroke="#222" stroke-width="0.15" dominant-baseline="central">0.1</text>
<text transform="translate(270.80 177.96) scale(0.800 1)" font-size="5.59" text-anchor="end" font-weight="bold" fill="#222" stroke="#222" stroke-width="0.15" dominant-baseline="central">0.05</text>
<text transform="translate(270.80 191.49) scale(0.800 1)" font-size="5.59" text-anchor="end" font-weight="bold" fill="#222" stroke="#222" stroke-width="0.15" dominant-baseline="central">0</text>
<text transform="translate(270.80 205.02) scale(0.800 1)" font-size="5.59" text-anchor="end" font-weight="bold" fill="#222" stroke="#222" stroke-width="0.15" dominant-baseline="central">-0.05</text>
<text transform="translate(270.80 218.55) scale(0.800 1)" font-size="5.59" text-anchor="end" font-weight="bold" fill="#222" stroke="#222" stroke-width="0.15" dominant-baseline="central">-0.1</text>
<text transform="translate(270.80 232.08) scale(0.800 1)" font-size="5.59" text-anchor="end" font-weight="bold" fill="#222" stroke="#222" stroke-width="0.15" dominant-baseline="central">-0.15</text>
<text transform="translate(272.80 237.20) scale(0.800 1)" font-size="5.59" text-anchor="middle" font-weight="bold" fill="#222" stroke="#222" stroke-width="0.15" dominant-baseline="central">0</text>
<text transform="translate(306.65 237.20) scale(0.800 1)" font-size="5.59" text-anchor="middle" font-weight="bold" fill="#222" stroke="#222" stroke-width="0.15" dominant-baseline="central">0.1</text>
<text transform="translate(340.50 237.20) scale(0.800 1)" font-size="5.59" text-anchor="middle" font-weight="bold" fill="#222" stroke="#222" stroke-width="0.15" dominant-baseline="central">0.2</text>
<text transform="translate(374.35 237.20) scale(0.800 1)" font-size="5.59" text-anchor="middle" font-weight="bold" fill="#222" stroke="#222" stroke-width="0.15" dominant-baseline="central">0.3</text>
<text transform="translate(408.20 237.20) scale(0.800 1)" font-size="5.59" text-anchor="middle" font-weight="bold" fill="#222" stroke="#222" stroke-width="0.15" dominant-baseline="central">0.4</text>
<text transform="translate(442.05 237.20) scale(0.800 1)" font-size="5.59" text-anchor="middle" font-weight="bold" fill="#222" stroke="#222" stroke-width="0.15" dominant-baseline="central">0.5</text>
<text transform="translate(368.10 243.30) scale(0.834 1)" font-size="5.59" text-anchor="middle" font-weight="bold" fill="#222" stroke="#222" stroke-width="0.28" dominant-baseline="central">Time(s)</text>
<text transform="translate(256.75 191.10) rotate(-90) scale(0.849 1)" font-size="5.59" text-anchor="middle" font-weight="bold" fill="#222" stroke="#222" stroke-width="0.28" dominant-baseline="central">Radial Velocity (m/s)</text>
<text x="257.60" y="262.90" font-size="12" font-family='"Liberation Serif", serif' fill="#1a1a1a" stroke="#1a1a1a" stroke-width="0.18" textLength="161.6" lengthAdjust="spacingAndGlyphs" xml:space="preserve">(<tspan font-weight="bold">d</tspan>)  Radial velocity measurement</text>
<rect x="22" y="289.5" width="189.3" height="81.80000000000001" fill="#fff"/>
<line x1="55.75" y1="289.5" x2="55.75" y2="371.3" stroke="#e4e4e4" stroke-width="0.5"/>
<line x1="89.50" y1="289.5" x2="89.50" y2="371.3" stroke="#e4e4e4" stroke-width="0.5"/>
<line x1="123.25" y1="289.5" x2="123.25" y2="371.3" stroke="#e4e4e4" stroke-width="0.5"/>
<line x1="157.00" y1="289.5" x2="157.00" y2="371.3" stroke="#e4e4e4" stroke-width="0.5"/>
<line x1="190.75" y1="289.5" x2="190.75" y2="371.3" stroke="#e4e4e4" stroke-width="0.5"/>
<line x1="22" y1="300.37" x2="211.3" y2="300.37" stroke="#e4e4e4" stroke-width="0.5"/>
<line x1="22" y1="311.24" x2="211.3" y2="311.24" stroke="#e4e4e4" stroke-width="0.5"/>
<line x1="22" y1="322.11" x2="211.3" y2="322.11" stroke="#e4e4e4" stroke-width="0.5"/>
<line x1="22" y1="332.98" x2="211.3" y2="332.98" stroke="#e4e4e4" stroke-width="0.5"/>
<line x1="22" y1="343.85" x2="211.3" y2="343.85" stroke="#e4e4e4" stroke-width="0.5"/>
<line x1="22" y1="354.72" x2="211.3" y2="354.72" stroke="#e4e4e4" stroke-width="0.5"/>
<line x1="22" y1="365.59" x2="211.3" y2="365.59" stroke="#e4e4e4" stroke-width="0.5"/>
<path d="M22.00,320.48 L25.16,320.48 L28.31,320.48 L31.47,320.48 L34.62,320.48 L37.78,320.48 L40.93,320.48 L44.09,320.48 L47.25,320.48 L50.40,320.48 L53.56,320.48 L56.71,320.48 L59.87,320.48 L63.02,320.48 L66.18,320.48 L69.33,320.48 L72.49,320.48 L75.65,320.48 L78.80,320.48 L81.96,320.48 L85.11,320.48 L88.27,320.48 L91.42,320.48 L94.58,320.48 L97.74,320.48 L100.89,320.48 L104.05,320.48 L107.20,320.48 L110.36,320.48 L113.51,320.48 L116.67,320.48 L119.82,320.48 L122.98,320.48 L126.14,320.48 L129.29,320.48 L132.45,320.48 L135.60,320.48 L138.76,320.48 L141.91,320.48 L145.07,320.48 L148.23,320.48 L151.38,320.48 L154.54,320.48 L157.69,320.48 L160.85,320.48 L164.00,320.48 L167.16,320.48 L170.31,320.48 L173.47,320.48 L176.63,320.48 L179.78,320.48 L182.94,320.48 L186.09,320.48 L189.25,320.48 L192.40,320.48 L195.56,320.48 L198.72,320.48 L201.87,320.48 L205.03,320.48 L208.18,320.48 L211.34,320.48" fill="none" stroke="#00f000" stroke-width="0.8" stroke-linejoin="round" opacity="1"/>
<path d="M22.00,330.81 L25.16,330.81 L28.31,330.81 L31.47,330.81 L34.62,330.81 L37.78,330.81 L40.93,330.81 L44.09,330.81 L47.25,330.81 L50.40,330.81 L53.56,330.81 L56.71,330.81 L59.87,330.81 L63.02,330.81 L66.18,330.81 L69.33,330.81 L72.49,330.81 L75.65,330.81 L78.80,330.81 L81.96,330.81 L85.11,330.81 L88.27,330.81 L91.42,330.81 L94.58,330.81 L97.74,330.81 L100.89,330.81 L104.05,330.81 L107.20,330.81 L110.36,330.81 L113.51,330.81 L116.67,330.81 L119.82,330.81 L122.98,330.81 L126.14,330.81 L129.29,330.81 L132.45,330.81 L135.60,330.81 L138.76,330.81 L141.91,330.81 L145.07,330.81 L148.23,330.81 L151.38,330.81 L154.54,330.81 L157.69,330.81 L160.85,330.81 L164.00,330.81 L167.16,330.81 L170.31,330.81 L173.47,330.81 L176.63,330.81 L179.78,330.81 L182.94,330.81 L186.09,330.81 L189.25,330.81 L192.40,330.81 L195.56,330.81 L198.72,330.81 L201.87,330.81 L205.03,330.81 L208.18,330.81 L211.34,330.81" fill="none" stroke="#ff1010" stroke-width="0.8" stroke-linejoin="round" opacity="1"/>
<path d="M22.00,356.89 L25.16,356.89 L28.31,356.89 L31.47,356.89 L34.62,356.89 L37.78,356.89 L40.93,356.89 L44.09,356.89 L47.25,356.89 L50.40,356.89 L53.56,356.89 L56.71,356.89 L59.87,356.89 L63.02,356.89 L66.18,356.89 L69.33,356.89 L72.49,356.89 L75.65,356.89 L78.80,356.89 L81.96,356.89 L85.11,356.89 L88.27,356.89 L91.42,356.89 L94.58,356.89 L97.74,356.89 L100.89,356.89 L104.05,356.89 L107.20,356.89 L110.36,356.89 L113.51,356.89 L116.67,356.89 L119.82,356.89 L122.98,356.89 L126.14,356.89 L129.29,356.89 L132.45,356.89 L135.60,356.89 L138.76,356.89 L141.91,356.89 L145.07,356.89 L148.23,356.89 L151.38,356.89 L154.54,356.89 L157.69,356.89 L160.85,356.89 L164.00,356.89 L167.16,356.89 L170.31,356.89 L173.47,356.89 L176.63,356.89 L179.78,356.89 L182.94,356.89 L186.09,356.89 L189.25,356.89 L192.40,356.89 L195.56,356.89 L198.72,356.89 L201.87,356.89 L205.03,356.89 L208.18,356.89 L211.34,356.89" fill="none" stroke="#1010ff" stroke-width="0.8" stroke-linejoin="round" opacity="1"/>
<path d="M22.00,320.48 L25.16,320.48 L28.31,320.48 L31.47,320.48 L34.62,319.61 L37.78,319.61 L40.93,319.61 L44.09,319.61 L47.25,319.61 L50.40,319.61 L53.56,319.61 L56.71,319.61 L59.87,319.61 L63.02,319.61 L66.18,319.61 L69.33,319.61 L72.49,319.61 L75.65,319.61 L78.80,319.61 L81.96,319.61 L85.11,319.61 L88.27,319.61 L91.42,319.61 L94.58,319.61 L97.74,319.61 L100.89,319.61 L104.05,319.61 L107.20,319.61 L110.36,319.61 L113.51,319.61 L116.67,319.61 L119.82,319.61 L122.98,319.61 L126.14,319.61 L129.29,319.61 L132.45,319.61 L135.60,319.61 L138.76,321.57 L141.91,321.64 L145.07,321.71 L148.23,321.77 L151.38,321.84 L154.54,321.90 L157.69,321.97 L160.85,322.04 L164.00,322.10 L167.16,322.17 L170.31,322.24 L173.47,322.30 L176.63,322.37 L179.78,322.43 L182.94,322.50 L186.09,322.57 L189.25,322.63 L192.40,322.70 L195.56,322.76 L198.72,322.83 L201.87,322.90 L205.03,322.96 L208.18,323.03 L211.34,323.10" fill="none" stroke="#00ee00" stroke-width="1.1" stroke-dasharray="1.1 1.35" stroke-linejoin="round" opacity="1"/>
<path d="M22.00,330.59 L25.16,330.59 L28.31,330.59 L31.47,330.59 L34.62,330.59 L37.78,330.59 L40.93,330.59 L44.09,330.59 L47.25,330.59 L50.40,330.59 L53.56,330.59 L56.71,330.59 L59.87,330.59 L63.02,330.59 L66.18,330.59 L69.33,330.59 L72.49,330.59 L75.65,330.59 L78.80,330.59 L81.96,330.59 L85.11,330.59 L88.27,330.59 L91.42,330.59 L94.58,330.59 L97.74,330.59 L100.89,330.59 L104.05,330.59 L107.20,330.59 L110.36,330.59 L113.51,330.59 L116.67,330.59 L119.82,330.59 L122.98,330.59 L126.14,330.59 L129.29,330.59 L132.45,330.59 L135.60,330.59 L138.76,330.59 L141.91,330.59 L145.07,330.59 L148.23,330.59 L151.38,330.59 L154.54,330.59 L157.69,330.59 L160.85,330.59 L164.00,330.59 L167.16,330.59 L170.31,330.59 L173.47,330.59 L176.63,330.59 L179.78,330.59 L182.94,330.59 L186.09,330.59 L189.25,330.59 L192.40,330.59 L195.56,330.59 L198.72,330.59 L201.87,330.59 L205.03,330.59 L208.18,330.59 L211.34,330.59" fill="none" stroke="#ff0000" stroke-width="0.9" stroke-dasharray="1.0 1.3" stroke-linejoin="round" opacity="1"/>
<path d="M22.00,352.87 L25.16,352.94 L28.31,353.01 L31.47,353.07 L34.62,353.14 L37.78,353.21 L40.93,353.27 L44.09,353.34 L47.25,353.41 L50.40,353.48 L53.56,353.54 L56.71,353.61 L59.87,353.68 L63.02,353.74 L66.18,353.81 L69.33,353.88 L72.49,353.95 L75.65,354.01 L78.80,354.08 L81.96,354.15 L85.11,354.21 L88.27,354.28 L91.42,354.35 L94.58,354.41 L97.74,354.48 L100.89,354.55 L104.05,354.62 L107.20,354.68 L110.36,354.75 L113.51,354.82 L116.67,354.88 L119.82,354.95 L122.98,355.02 L126.14,355.09 L129.29,355.15 L132.45,355.22 L135.60,355.29 L138.76,355.35 L141.91,355.42 L145.07,355.49 L148.23,355.56 L151.38,355.62 L154.54,355.69 L157.69,355.76 L160.85,355.82 L164.00,355.89 L167.16,355.96 L170.31,356.02 L173.47,356.09 L176.63,356.16 L179.78,356.23 L182.94,356.29 L186.09,356.36 L189.25,356.43 L192.40,356.46 L195.56,356.46 L198.72,356.46 L201.87,356.46 L205.03,356.46 L208.18,356.46 L211.34,356.46" fill="none" stroke="#0000ff" stroke-width="1.1" stroke-dasharray="1.1 1.35" stroke-linejoin="round" opacity="1"/>
<path d="M22,289.5 L211.3,289.5 L211.3,371.3" fill="none" stroke="#b4b4b4" stroke-width="0.5"/>
<path d="M22,289.5 L22,371.3 L211.3,371.3" fill="none" stroke="#6a6a6a" stroke-width="0.5"/>
<rect x="143.5" y="289.5" width="67.69999999999999" height="29.100000000000023" fill="#fff" stroke="#777" stroke-width="0.45"/>
<line x1="144.5" y1="292.40" x2="150.8" y2="292.40" stroke="#0000ff" stroke-width="0.75"/>
<text transform="translate(151.90 292.40) scale(0.796 1)" font-size="4.80" text-anchor="start" font-weight="bold" fill="#111" stroke="#111" stroke-width="0.2" dominant-baseline="central">Target 1 ideal measurement</text>
<line x1="144.5" y1="297.23" x2="150.8" y2="297.23" stroke="#0000ff" stroke-width="1.0" stroke-dasharray="1.0 1.4" stroke-dashoffset="-0.3"/>
<text transform="translate(151.90 297.23) scale(0.796 1)" font-size="4.80" text-anchor="start" font-weight="bold" fill="#111" stroke="#111" stroke-width="0.2" dominant-baseline="central">Target 1 extracted measurement</text>
<line x1="144.5" y1="302.06" x2="150.8" y2="302.06" stroke="#ff0000" stroke-width="0.75"/>
<text transform="translate(151.90 302.06) scale(0.796 1)" font-size="4.80" text-anchor="start" font-weight="bold" fill="#111" stroke="#111" stroke-width="0.2" dominant-baseline="central">Target 2 ideal measurement</text>
<line x1="144.5" y1="306.89" x2="150.8" y2="306.89" stroke="#ff0000" stroke-width="1.0" stroke-dasharray="1.0 1.4" stroke-dashoffset="-0.3"/>
<text transform="translate(151.90 306.89) scale(0.796 1)" font-size="4.80" text-anchor="start" font-weight="bold" fill="#111" stroke="#111" stroke-width="0.2" dominant-baseline="central">Target 2 extracted measurement</text>
<line x1="144.5" y1="311.72" x2="150.8" y2="311.72" stroke="#00ee00" stroke-width="0.75"/>
<text transform="translate(151.90 311.72) scale(0.796 1)" font-size="4.80" text-anchor="start" font-weight="bold" fill="#111" stroke="#111" stroke-width="0.2" dominant-baseline="central">Target 3 ideal measurement</text>
<line x1="144.5" y1="316.55" x2="150.8" y2="316.55" stroke="#00ee00" stroke-width="1.0" stroke-dasharray="1.0 1.4" stroke-dashoffset="-0.3"/>
<text transform="translate(151.90 316.55) scale(0.796 1)" font-size="4.80" text-anchor="start" font-weight="bold" fill="#111" stroke="#111" stroke-width="0.2" dominant-baseline="central">Target 3 extracted measurement</text>
<text transform="translate(116.70 284.60) scale(0.930 1)" font-size="5.71" text-anchor="middle" font-weight="bold" fill="#111" stroke="#111" stroke-width="0.28" dominant-baseline="central">Instantaneous Angular Velocity</text>
<text transform="translate(20.00 289.90) scale(0.800 1)" font-size="5.59" text-anchor="end" font-weight="bold" fill="#222" stroke="#222" stroke-width="0.15" dominant-baseline="central">5</text>
<text transform="translate(20.00 300.77) scale(0.800 1)" font-size="5.59" text-anchor="end" font-weight="bold" fill="#222" stroke="#222" stroke-width="0.15" dominant-baseline="central">4</text>
<text transform="translate(20.00 311.64) scale(0.800 1)" font-size="5.59" text-anchor="end" font-weight="bold" fill="#222" stroke="#222" stroke-width="0.15" dominant-baseline="central">3</text>
<text transform="translate(20.00 322.51) scale(0.800 1)" font-size="5.59" text-anchor="end" font-weight="bold" fill="#222" stroke="#222" stroke-width="0.15" dominant-baseline="central">2</text>
<text transform="translate(20.00 333.38) scale(0.800 1)" font-size="5.59" text-anchor="end" font-weight="bold" fill="#222" stroke="#222" stroke-width="0.15" dominant-baseline="central">1</text>
<text transform="translate(20.00 344.25) scale(0.800 1)" font-size="5.59" text-anchor="end" font-weight="bold" fill="#222" stroke="#222" stroke-width="0.15" dominant-baseline="central">0</text>
<text transform="translate(20.00 355.12) scale(0.800 1)" font-size="5.59" text-anchor="end" font-weight="bold" fill="#222" stroke="#222" stroke-width="0.15" dominant-baseline="central">-1</text>
<text transform="translate(20.00 365.99) scale(0.800 1)" font-size="5.59" text-anchor="end" font-weight="bold" fill="#222" stroke="#222" stroke-width="0.15" dominant-baseline="central">-2</text>
<text transform="translate(22.00 376.80) scale(0.800 1)" font-size="5.59" text-anchor="middle" font-weight="bold" fill="#222" stroke="#222" stroke-width="0.15" dominant-baseline="central">0</text>
<text transform="translate(55.75 376.80) scale(0.800 1)" font-size="5.59" text-anchor="middle" font-weight="bold" fill="#222" stroke="#222" stroke-width="0.15" dominant-baseline="central">0.1</text>
<text transform="translate(89.50 376.80) scale(0.800 1)" font-size="5.59" text-anchor="middle" font-weight="bold" fill="#222" stroke="#222" stroke-width="0.15" dominant-baseline="central">0.2</text>
<text transform="translate(123.25 376.80) scale(0.800 1)" font-size="5.59" text-anchor="middle" font-weight="bold" fill="#222" stroke="#222" stroke-width="0.15" dominant-baseline="central">0.3</text>
<text transform="translate(157.00 376.80) scale(0.800 1)" font-size="5.59" text-anchor="middle" font-weight="bold" fill="#222" stroke="#222" stroke-width="0.15" dominant-baseline="central">0.4</text>
<text transform="translate(190.75 376.80) scale(0.800 1)" font-size="5.59" text-anchor="middle" font-weight="bold" fill="#222" stroke="#222" stroke-width="0.15" dominant-baseline="central">0.5</text>
<text transform="translate(117.00 382.90) scale(0.925 1)" font-size="5.59" text-anchor="middle" font-weight="bold" fill="#222" stroke="#222" stroke-width="0.28" dominant-baseline="central">Time(s)</text>
<text transform="translate(11.65 329.90) rotate(-90) scale(0.961 1)" font-size="5.59" text-anchor="middle" font-weight="bold" fill="#222" stroke="#222" stroke-width="0.28" dominant-baseline="central">Angular Velocity (rad/s)</text>
<text x="4.80" y="401.80" font-size="12" font-family='"Liberation Serif", serif' fill="#1a1a1a" stroke="#1a1a1a" stroke-width="0.18" textLength="169.6" lengthAdjust="spacingAndGlyphs" xml:space="preserve">(<tspan font-weight="bold">e</tspan>)  Angular velocity measurement</text>
<rect x="272.8" y="289.5" width="190.0" height="81.0" fill="#fff"/>
<line x1="297.80" y1="289.5" x2="297.80" y2="370.5" stroke="#e4e4e4" stroke-width="0.5"/>
<line x1="322.80" y1="289.5" x2="322.80" y2="370.5" stroke="#e4e4e4" stroke-width="0.5"/>
<line x1="347.80" y1="289.5" x2="347.80" y2="370.5" stroke="#e4e4e4" stroke-width="0.5"/>
<line x1="372.80" y1="289.5" x2="372.80" y2="370.5" stroke="#e4e4e4" stroke-width="0.5"/>
<line x1="397.80" y1="289.5" x2="397.80" y2="370.5" stroke="#e4e4e4" stroke-width="0.5"/>
<line x1="422.80" y1="289.5" x2="422.80" y2="370.5" stroke="#e4e4e4" stroke-width="0.5"/>
<line x1="447.80" y1="289.5" x2="447.80" y2="370.5" stroke="#e4e4e4" stroke-width="0.5"/>
<line x1="272.8" y1="352.50" x2="462.8" y2="352.50" stroke="#e4e4e4" stroke-width="0.5"/>
<line x1="272.8" y1="334.50" x2="462.8" y2="334.50" stroke="#e4e4e4" stroke-width="0.5"/>
<line x1="272.8" y1="316.50" x2="462.8" y2="316.50" stroke="#e4e4e4" stroke-width="0.5"/>
<line x1="272.8" y1="298.50" x2="462.8" y2="298.50" stroke="#e4e4e4" stroke-width="0.5"/>
<path d="M299.80,312.00 L301.94,311.06 L304.09,310.16 L306.23,309.31 L308.38,308.50 L310.52,307.73 L312.66,307.00 L314.81,306.32 L316.95,305.68 L319.10,305.08 L321.24,304.53 L323.38,304.02 L325.53,303.55 L327.67,303.12 L329.82,302.74 L331.96,302.40 L334.10,302.10 L336.25,301.84 L338.39,301.63 L340.54,301.46 L342.68,301.33 L344.82,301.25 L346.97,301.20 L349.11,301.20 L351.26,301.24 L353.40,301.32 L355.54,301.43 L357.69,301.57 L359.83,301.75 L361.98,301.97 L364.12,302.23 L366.26,302.52 L368.41,302.85 L370.55,303.22 L372.70,303.62 L374.84,304.06 L376.98,304.53 L379.13,305.04 L381.27,305.59 L383.42,306.17 L385.56,306.79 L387.70,307.45 L389.85,308.14 L391.99,308.87 L394.14,309.64 L396.28,310.44 L398.42,311.28 L400.57,312.16 L402.71,313.07 L404.86,314.02 L407.00,315.00" fill="none" stroke="#1818ff" stroke-width="0.75" stroke-linejoin="round" opacity="1"/>
<path d="M301.80,318.80 L303.73,318.05 L305.66,317.34 L307.59,316.65 L309.52,316.00 L311.45,315.38 L313.38,314.78 L315.31,314.22 L317.24,313.69 L319.17,313.19 L321.10,312.72 L323.03,312.27 L324.96,311.86 L326.89,311.48 L328.82,311.13 L330.75,310.82 L332.68,310.53 L334.61,310.27 L336.54,310.04 L338.47,309.84 L340.40,309.68 L342.33,309.54 L344.26,309.43 L346.19,309.36 L348.12,309.31 L350.05,309.30 L351.98,309.32 L353.91,309.38 L355.84,309.48 L357.77,309.61 L359.70,309.78 L361.63,310.00 L363.56,310.25 L365.49,310.53 L367.42,310.86 L369.35,311.23 L371.28,311.63 L373.21,312.07 L375.14,312.55 L377.07,313.07 L379.00,313.63 L380.93,314.22 L382.86,314.85 L384.79,315.53 L386.72,316.24 L388.65,316.98 L390.58,317.77 L392.51,318.60 L394.44,319.46 L396.37,320.36 L398.30,321.30" fill="none" stroke="#ff1818" stroke-width="0.75" stroke-linejoin="round" opacity="1"/>
<path d="M308.50,331.80 L310.02,331.08 L311.54,330.39 L313.06,329.73 L314.58,329.09 L316.10,328.49 L317.62,327.92 L319.14,327.37 L320.66,326.85 L322.18,326.37 L323.70,325.91 L325.22,325.48 L326.74,325.08 L328.26,324.70 L329.78,324.36 L331.30,324.05 L332.82,323.76 L334.34,323.51 L335.86,323.28 L337.38,323.08 L338.90,322.91 L340.42,322.77 L341.94,322.66 L343.46,322.58 L344.98,322.53 L346.50,322.50 L348.02,322.51 L349.54,322.54 L351.06,322.59 L352.58,322.68 L354.10,322.79 L355.62,322.93 L357.14,323.09 L358.66,323.28 L360.18,323.50 L361.70,323.74 L363.22,324.02 L364.74,324.31 L366.26,324.64 L367.78,324.99 L369.30,325.36 L370.82,325.77 L372.34,326.20 L373.86,326.66 L375.38,327.14 L376.90,327.65 L378.42,328.19 L379.94,328.75 L381.46,329.34 L382.98,329.96 L384.50,330.60" fill="none" stroke="#00ee00" stroke-width="0.75" stroke-linejoin="round" opacity="1"/>
<path d="M299.80,310.50 L301.94,309.66 L304.09,308.85 L306.23,308.08 L308.38,307.34 L310.52,306.65 L312.66,305.99 L314.81,305.37 L316.95,304.79 L319.10,304.25 L321.24,303.75 L323.38,303.29 L325.53,302.86 L327.67,302.48 L329.82,302.14 L331.96,301.83 L334.10,301.57 L336.25,301.35 L338.39,301.17 L340.54,301.03 L342.68,300.93 L344.82,300.87 L346.97,300.85 L349.11,300.87 L351.26,300.93 L353.40,301.02 L355.54,301.15 L357.69,301.32 L359.83,301.51 L361.98,301.75 L364.12,302.02 L366.26,302.32 L368.41,302.67 L370.55,303.04 L372.70,303.46 L374.84,303.90 L376.98,304.39 L379.13,304.91 L381.27,305.46 L383.42,306.06 L385.56,306.68 L387.70,307.35 L389.85,308.05 L391.99,308.78 L394.14,309.55 L396.28,310.36 L398.42,311.21 L400.57,312.09 L402.71,313.00 L404.86,313.95 L407.00,314.94" fill="none" stroke="#0000ff" stroke-width="0.9" stroke-dasharray="1.0 1.3" stroke-linejoin="round" opacity="1"/>
<path d="M301.80,318.20 L303.73,317.51 L305.66,316.85 L307.59,316.21 L309.52,315.60 L311.45,315.01 L313.38,314.45 L315.31,313.92 L317.24,313.41 L319.17,312.94 L321.10,312.49 L323.03,312.07 L324.96,311.68 L326.89,311.32 L328.82,310.98 L330.75,310.68 L332.68,310.40 L334.61,310.16 L336.54,309.94 L338.47,309.75 L340.40,309.59 L342.33,309.46 L344.26,309.37 L346.19,309.30 L348.12,309.26 L350.05,309.25 L351.98,309.27 L353.91,309.34 L355.84,309.44 L357.77,309.58 L359.70,309.75 L361.63,309.97 L363.56,310.22 L365.49,310.51 L367.42,310.84 L369.35,311.21 L371.28,311.61 L373.21,312.06 L375.14,312.54 L377.07,313.06 L379.00,313.61 L380.93,314.21 L382.86,314.84 L384.79,315.52 L386.72,316.23 L388.65,316.98 L390.58,317.76 L392.51,318.59 L394.44,319.45 L396.37,320.36 L398.30,321.30" fill="none" stroke="#ff0000" stroke-width="0.9" stroke-dasharray="1.0 1.3" stroke-linejoin="round" opacity="1"/>
<path d="M308.50,331.40 L310.02,330.72 L311.54,330.06 L313.06,329.43 L314.58,328.82 L316.10,328.25 L317.62,327.69 L319.14,327.17 L320.66,326.67 L322.18,326.20 L323.70,325.76 L325.22,325.34 L326.74,324.95 L328.26,324.59 L329.78,324.26 L331.30,323.95 L332.82,323.68 L334.34,323.43 L335.86,323.21 L337.38,323.02 L338.90,322.86 L340.42,322.72 L341.94,322.61 L343.46,322.54 L344.98,322.49 L346.50,322.47 L348.02,322.47 L349.54,322.51 L351.06,322.57 L352.58,322.66 L354.10,322.77 L355.62,322.91 L357.14,323.07 L358.66,323.27 L360.18,323.49 L361.70,323.73 L363.22,324.00 L364.74,324.30 L366.26,324.63 L367.78,324.98 L369.30,325.36 L370.82,325.76 L372.34,326.19 L373.86,326.65 L375.38,327.13 L376.90,327.64 L378.42,328.18 L379.94,328.75 L381.46,329.34 L382.98,329.95 L384.50,330.60" fill="none" stroke="#00ee00" stroke-width="0.9" stroke-dasharray="1.0 1.3" stroke-linejoin="round" opacity="1"/>
<path d="M272.8,289.5 L462.8,289.5 L462.8,370.5" fill="none" stroke="#b4b4b4" stroke-width="0.5"/>
<path d="M272.8,289.5 L272.8,370.5 L462.8,370.5" fill="none" stroke="#6a6a6a" stroke-width="0.5"/>
<rect x="409.2" y="289.4" width="53.5" height="33.80000000000001" fill="#fff" stroke="#777" stroke-width="0.45"/>
<line x1="410" y1="292.70" x2="417" y2="292.70" stroke="#0000ff" stroke-width="0.75"/>
<text transform="translate(417.80 292.70) scale(0.789 1)" font-size="4.90" text-anchor="start" font-weight="bold" fill="#111" stroke="#111" stroke-width="0.2" dominant-baseline="central">Target 1 real track</text>
<line x1="410" y1="298.40" x2="417" y2="298.40" stroke="#ff0000" stroke-width="0.75"/>
<text transform="translate(417.80 298.40) scale(0.789 1)" font-size="4.90" text-anchor="start" font-weight="bold" fill="#111" stroke="#111" stroke-width="0.2" dominant-baseline="central">Target 2 real track</text>
<line x1="410" y1="304.10" x2="417" y2="304.10" stroke="#00ee00" stroke-width="0.75"/>
<text transform="translate(417.80 304.10) scale(0.789 1)" font-size="4.90" text-anchor="start" font-weight="bold" fill="#111" stroke="#111" stroke-width="0.2" dominant-baseline="central">Target 3 real track</text>
<line x1="410" y1="309.80" x2="417" y2="309.80" stroke="#0000ff" stroke-width="1.0" stroke-dasharray="1.0 1.4" stroke-dashoffset="-0.3"/>
<text transform="translate(417.80 309.80) scale(0.789 1)" font-size="4.90" text-anchor="start" font-weight="bold" fill="#111" stroke="#111" stroke-width="0.2" dominant-baseline="central">Target 1 estimated track</text>
<line x1="410" y1="315.50" x2="417" y2="315.50" stroke="#ff0000" stroke-width="1.0" stroke-dasharray="1.0 1.4" stroke-dashoffset="-0.3"/>
<text transform="translate(417.80 315.50) scale(0.789 1)" font-size="4.90" text-anchor="start" font-weight="bold" fill="#111" stroke="#111" stroke-width="0.2" dominant-baseline="central">Target 2 estimated track</text>
<line x1="410" y1="321.20" x2="417" y2="321.20" stroke="#00ee00" stroke-width="1.0" stroke-dasharray="1.0 1.4" stroke-dashoffset="-0.3"/>
<text transform="translate(417.80 321.20) scale(0.789 1)" font-size="4.90" text-anchor="start" font-weight="bold" fill="#111" stroke="#111" stroke-width="0.2" dominant-baseline="central">Target 3 estimated track</text>
<text transform="translate(367.90 284.60) scale(0.812 1)" font-size="5.83" text-anchor="middle" font-weight="bold" fill="#111" stroke="#111" stroke-width="0.28" dominant-baseline="central">Target Trajectories</text>
<text transform="translate(270.80 370.90) scale(0.800 1)" font-size="5.59" text-anchor="end" font-weight="bold" fill="#222" stroke="#222" stroke-width="0.15" dominant-baseline="central">0</text>
<text transform="translate(270.80 352.90) scale(0.800 1)" font-size="5.59" text-anchor="end" font-weight="bold" fill="#222" stroke="#222" stroke-width="0.15" dominant-baseline="central">2</text>
<text transform="translate(270.80 334.90) scale(0.800 1)" font-size="5.59" text-anchor="end" font-weight="bold" fill="#222" stroke="#222" stroke-width="0.15" dominant-baseline="central">4</text>
<text transform="translate(270.80 316.90) scale(0.800 1)" font-size="5.59" text-anchor="end" font-weight="bold" fill="#222" stroke="#222" stroke-width="0.15" dominant-baseline="central">6</text>
<text transform="translate(270.80 298.90) scale(0.800 1)" font-size="5.59" text-anchor="end" font-weight="bold" fill="#222" stroke="#222" stroke-width="0.15" dominant-baseline="central">8</text>
<text transform="translate(272.80 376.40) scale(0.800 1)" font-size="5.59" text-anchor="middle" font-weight="bold" fill="#222" stroke="#222" stroke-width="0.15" dominant-baseline="central">-6</text>
<text transform="translate(297.80 376.40) scale(0.800 1)" font-size="5.59" text-anchor="middle" font-weight="bold" fill="#222" stroke="#222" stroke-width="0.15" dominant-baseline="central">-4</text>
<text transform="translate(322.80 376.40) scale(0.800 1)" font-size="5.59" text-anchor="middle" font-weight="bold" fill="#222" stroke="#222" stroke-width="0.15" dominant-baseline="central">-2</text>
<text transform="translate(347.80 376.40) scale(0.800 1)" font-size="5.59" text-anchor="middle" font-weight="bold" fill="#222" stroke="#222" stroke-width="0.15" dominant-baseline="central">0</text>
<text transform="translate(372.80 376.40) scale(0.800 1)" font-size="5.59" text-anchor="middle" font-weight="bold" fill="#222" stroke="#222" stroke-width="0.15" dominant-baseline="central">2</text>
<text transform="translate(397.80 376.40) scale(0.800 1)" font-size="5.59" text-anchor="middle" font-weight="bold" fill="#222" stroke="#222" stroke-width="0.15" dominant-baseline="central">4</text>
<text transform="translate(422.80 376.40) scale(0.800 1)" font-size="5.59" text-anchor="middle" font-weight="bold" fill="#222" stroke="#222" stroke-width="0.15" dominant-baseline="central">6</text>
<text transform="translate(447.80 376.40) scale(0.800 1)" font-size="5.59" text-anchor="middle" font-weight="bold" fill="#222" stroke="#222" stroke-width="0.15" dominant-baseline="central">8</text>
<text transform="translate(368.00 382.60) scale(0.861 1)" font-size="5.59" text-anchor="middle" font-weight="bold" fill="#222" stroke="#222" stroke-width="0.28" dominant-baseline="central">x (m)</text>
<text transform="translate(264.95 330.00) rotate(-90) scale(0.838 1)" font-size="5.59" text-anchor="middle" font-weight="bold" fill="#222" stroke="#222" stroke-width="0.28" dominant-baseline="central">y (m)</text>
<text x="257.80" y="402.00" font-size="12" font-family='"Liberation Serif", serif' fill="#1a1a1a" stroke="#1a1a1a" stroke-width="0.18" textLength="170.8" lengthAdjust="spacingAndGlyphs" xml:space="preserve">(<tspan font-weight="bold">f</tspan>) Real and estimated target tracks</text>
<rect x="24.2" y="429.5" width="190.10000000000002" height="79.0" fill="#fff"/>
<line x1="49.74" y1="429.5" x2="49.74" y2="508.5" stroke="#e4e4e4" stroke-width="0.5"/>
<line x1="78.12" y1="429.5" x2="78.12" y2="508.5" stroke="#e4e4e4" stroke-width="0.5"/>
<line x1="106.50" y1="429.5" x2="106.50" y2="508.5" stroke="#e4e4e4" stroke-width="0.5"/>
<line x1="134.88" y1="429.5" x2="134.88" y2="508.5" stroke="#e4e4e4" stroke-width="0.5"/>
<line x1="163.26" y1="429.5" x2="163.26" y2="508.5" stroke="#e4e4e4" stroke-width="0.5"/>
<line x1="191.64" y1="429.5" x2="191.64" y2="508.5" stroke="#e4e4e4" stroke-width="0.5"/>
<line x1="24.2" y1="442.67" x2="214.3" y2="442.67" stroke="#e4e4e4" stroke-width="0.5"/>
<line x1="24.2" y1="455.84" x2="214.3" y2="455.84" stroke="#e4e4e4" stroke-width="0.5"/>
<line x1="24.2" y1="469.01" x2="214.3" y2="469.01" stroke="#e4e4e4" stroke-width="0.5"/>
<line x1="24.2" y1="482.18" x2="214.3" y2="482.18" stroke="#e4e4e4" stroke-width="0.5"/>
<line x1="24.2" y1="495.35" x2="214.3" y2="495.35" stroke="#e4e4e4" stroke-width="0.5"/>
<path d="M24.20,475.97 L26.58,478.44 L28.95,480.68 L31.33,482.71 L33.71,484.55 L36.08,486.22 L38.46,487.73 L40.84,489.09 L43.21,490.33 L45.59,491.46 L47.97,492.48 L50.35,493.40 L52.72,494.24 L55.10,494.99 L57.48,495.68 L59.85,496.30 L62.23,496.87 L64.61,497.38 L66.98,497.84 L69.36,498.26 L71.74,498.64 L74.11,498.98 L76.49,499.30 L78.87,499.58 L81.24,499.83 L83.62,500.07 L86.00,500.28 L88.37,500.47 L90.75,500.64 L93.13,500.80 L95.50,500.94 L97.88,501.07 L100.26,501.18 L102.64,501.29 L105.01,501.39 L107.39,501.47 L109.77,501.55 L112.14,501.62 L114.52,501.69 L116.90,501.75 L119.27,501.80 L121.65,501.85 L124.03,501.89 L126.40,501.93 L128.78,501.97 L131.16,502.00 L133.53,502.03 L135.91,502.05 L138.29,502.08 L140.66,502.10 L143.04,502.12 L145.42,502.14 L147.79,502.15 L150.17,502.17 L152.55,502.18 L154.93,502.19 L157.30,502.20 L159.68,502.21 L162.06,502.22 L164.43,502.23 L166.81,502.24 L169.19,502.25 L171.56,502.25 L173.94,502.26 L176.32,502.26 L178.69,502.27 L181.07,502.27 L183.45,502.27 L185.82,502.28 L188.20,502.28 L190.58,502.28 L192.95,502.29 L195.33,502.29 L197.71,502.29 L200.09,502.29 L202.46,502.29 L204.84,502.30 L207.22,502.30 L209.59,502.30 L211.97,502.30 L214.35,502.30" fill="none" stroke="#222" stroke-width="0.9" stroke-linejoin="round" opacity="1"/>
<path d="M24.20,475.57 L26.58,477.05 L28.95,478.44 L31.33,479.74 L33.71,480.96 L36.08,482.10 L38.46,483.18 L40.84,484.18 L43.21,485.12 L45.59,486.01 L47.97,486.83 L50.35,487.61 L52.72,488.34 L55.10,489.02 L57.48,489.66 L59.85,490.26 L62.23,490.82 L64.61,491.35 L66.98,491.85 L69.36,492.31 L71.74,492.75 L74.11,493.15 L76.49,493.54 L78.87,493.89 L81.24,494.23 L83.62,494.55 L86.00,494.84 L88.37,495.12 L90.75,495.38 L93.13,495.62 L95.50,495.85 L97.88,496.06 L100.26,496.26 L102.64,496.45 L105.01,496.63 L107.39,496.79 L109.77,496.95 L112.14,497.09 L114.52,497.23 L116.90,497.36 L119.27,497.48 L121.65,497.56 L124.03,497.57 L126.40,497.58 L128.78,497.59 L131.16,497.59 L133.53,497.58 L135.91,497.57 L138.29,497.55 L140.66,497.53 L143.04,497.51 L145.42,497.48 L147.79,497.44 L150.17,497.41 L152.55,497.37 L154.93,497.32 L157.30,497.28 L159.68,497.23 L162.06,497.18 L164.43,497.13 L166.81,497.07 L169.19,497.01 L171.56,496.96 L173.94,496.89 L176.32,496.83 L178.69,496.77 L181.07,496.70 L183.45,496.63 L185.82,496.57 L188.20,496.50 L190.58,496.43 L192.95,496.35 L195.33,496.28 L197.71,496.21 L200.09,496.13 L202.46,496.06 L204.84,495.98 L207.22,495.90 L209.59,495.82 L211.97,495.75 L214.35,495.67" fill="none" stroke="#0000ff" stroke-width="1.1" stroke-dasharray="1.1 1.35" stroke-linejoin="round" opacity="1"/>
<path d="M24.20,476.23 L26.58,476.66 L28.95,476.83 L31.33,477.25 L33.71,477.87 L36.08,478.52 L38.46,479.16 L40.84,479.77 L43.21,480.35 L45.59,480.91 L47.97,481.45 L50.35,481.97 L52.72,482.46 L55.10,482.93 L57.48,483.39 L59.85,483.82 L62.23,484.24 L64.61,484.64 L66.98,485.03 L69.36,485.39 L71.74,485.75 L74.11,486.09 L76.49,486.41 L78.87,486.72 L81.24,487.02 L83.62,487.31 L86.00,487.58 L88.37,487.85 L90.75,488.10 L93.13,488.34 L95.50,488.58 L97.88,488.80 L100.26,489.01 L102.64,489.22 L105.01,489.41 L107.39,489.60 L109.77,489.78 L112.14,489.96 L114.52,490.12 L116.90,490.28 L119.27,490.44 L121.65,490.58 L124.03,490.72 L126.40,490.86 L128.78,490.99 L131.16,491.11 L133.53,491.23 L135.91,491.30 L138.29,491.30 L140.66,491.29 L143.04,491.28 L145.42,491.27 L147.79,491.25 L150.17,491.23 L152.55,491.20 L154.93,491.17 L157.30,491.14 L159.68,491.11 L162.06,491.07 L164.43,491.03 L166.81,490.98 L169.19,490.94 L171.56,490.89 L173.94,490.84 L176.32,490.78 L178.69,490.72 L181.07,490.67 L183.45,490.60 L185.82,490.54 L188.20,490.48 L190.58,490.41 L192.95,490.34 L195.33,490.27 L197.71,490.20 L200.09,490.13 L202.46,490.05 L204.84,489.97 L207.22,489.90 L209.59,489.82 L211.97,489.74 L214.35,489.66" fill="none" stroke="#ff0000" stroke-width="1.1" stroke-dasharray="1.1 1.35" stroke-linejoin="round" opacity="1"/>
<path d="M24.20,468.59 L26.58,470.12 L28.95,471.56 L31.33,472.92 L33.71,474.21 L36.08,475.43 L38.46,476.58 L40.84,477.67 L43.21,478.70 L45.59,479.68 L47.97,480.60 L50.35,481.47 L52.72,482.29 L55.10,483.07 L57.48,483.81 L59.85,484.51 L62.23,485.17 L64.61,485.79 L66.98,486.38 L69.36,486.94 L71.74,487.46 L74.11,487.96 L76.49,488.43 L78.87,488.88 L81.24,489.30 L83.62,489.70 L86.00,490.08 L88.37,490.43 L90.75,490.77 L93.13,491.09 L95.50,491.39 L97.88,491.68 L100.26,491.95 L102.64,492.20 L105.01,492.44 L107.39,492.67 L109.77,492.89 L112.14,493.09 L114.52,493.29 L116.90,493.47 L119.27,493.64 L121.65,493.80 L124.03,493.96 L126.40,494.10 L128.78,494.24 L131.16,494.37 L133.53,494.50 L135.91,494.61 L138.29,494.72 L140.66,494.83 L143.04,494.93 L145.42,495.02 L147.79,495.11 L150.17,495.19 L152.55,495.27 L154.93,495.35 L157.30,495.42 L159.68,495.48 L162.06,495.55 L164.43,495.61 L166.81,495.66 L169.19,495.72 L171.56,495.77 L173.94,495.81 L176.32,495.86 L178.69,495.90 L181.07,495.94 L183.45,495.98 L185.82,496.02 L188.20,496.05 L190.58,496.08 L192.95,496.11 L195.33,496.14 L197.71,496.17 L200.09,496.20 L202.46,496.22 L204.84,496.24 L207.22,496.27 L209.59,496.29 L211.97,496.31 L214.35,496.32" fill="none" stroke="#00ee00" stroke-width="1.1" stroke-dasharray="1.1 1.35" stroke-linejoin="round" opacity="1"/>
<path d="M24.2,429.5 L214.3,429.5 L214.3,508.5" fill="none" stroke="#b4b4b4" stroke-width="0.5"/>
<path d="M24.2,429.5 L24.2,508.5 L214.3,508.5" fill="none" stroke="#6a6a6a" stroke-width="0.5"/>
<rect x="175.2" y="429.3" width="38.900000000000006" height="24.69999999999999" fill="#fff" stroke="#777" stroke-width="0.45"/>
<line x1="176" y1="432.50" x2="183.2" y2="432.50" stroke="#0000ff" stroke-width="1.0" stroke-dasharray="1.0 1.4" stroke-dashoffset="-0.3"/>
<text transform="translate(184.00 432.50) scale(0.768 1)" font-size="5.50" text-anchor="start" font-weight="bold" fill="#111" stroke="#111" stroke-width="0.2" dominant-baseline="central">Target 1 RMSE</text>
<line x1="176" y1="438.64" x2="183.2" y2="438.64" stroke="#ff0000" stroke-width="1.0" stroke-dasharray="1.0 1.4" stroke-dashoffset="-0.3"/>
<text transform="translate(184.00 438.64) scale(0.768 1)" font-size="5.50" text-anchor="start" font-weight="bold" fill="#111" stroke="#111" stroke-width="0.2" dominant-baseline="central">Target 2 RMSE</text>
<line x1="176" y1="444.78" x2="183.2" y2="444.78" stroke="#00ee00" stroke-width="1.0" stroke-dasharray="1.0 1.4" stroke-dashoffset="-0.3"/>
<text transform="translate(184.00 444.78) scale(0.768 1)" font-size="5.50" text-anchor="start" font-weight="bold" fill="#111" stroke="#111" stroke-width="0.2" dominant-baseline="central">Target 3 RMSE</text>
<line x1="176" y1="450.92" x2="183.2" y2="450.92" stroke="#444" stroke-width="0.75"/>
<text transform="translate(184.00 450.92) scale(0.768 1)" font-size="5.50" text-anchor="start" font-weight="bold" fill="#111" stroke="#111" stroke-width="0.2" dominant-baseline="central">PCRLB</text>
<text transform="translate(119.50 424.00) scale(0.774 1)" font-size="6.66" text-anchor="middle" font-weight="bold" fill="#111" stroke="#111" stroke-width="0.28" dominant-baseline="central">RMSE in Position</text>
<text transform="translate(21.80 429.90) scale(0.800 1)" font-size="5.89" text-anchor="end" font-weight="bold" fill="#222" stroke="#222" stroke-width="0.15" dominant-baseline="central">0.6</text>
<text transform="translate(21.80 443.07) scale(0.800 1)" font-size="5.89" text-anchor="end" font-weight="bold" fill="#222" stroke="#222" stroke-width="0.15" dominant-baseline="central">0.5</text>
<text transform="translate(21.80 456.24) scale(0.800 1)" font-size="5.89" text-anchor="end" font-weight="bold" fill="#222" stroke="#222" stroke-width="0.15" dominant-baseline="central">0.4</text>
<text transform="translate(21.80 469.41) scale(0.800 1)" font-size="5.89" text-anchor="end" font-weight="bold" fill="#222" stroke="#222" stroke-width="0.15" dominant-baseline="central">0.3</text>
<text transform="translate(21.80 482.58) scale(0.800 1)" font-size="5.89" text-anchor="end" font-weight="bold" fill="#222" stroke="#222" stroke-width="0.15" dominant-baseline="central">0.2</text>
<text transform="translate(21.80 495.75) scale(0.800 1)" font-size="5.89" text-anchor="end" font-weight="bold" fill="#222" stroke="#222" stroke-width="0.15" dominant-baseline="central">0.1</text>
<text transform="translate(21.80 508.92) scale(0.800 1)" font-size="5.89" text-anchor="end" font-weight="bold" fill="#222" stroke="#222" stroke-width="0.15" dominant-baseline="central">0</text>
<text transform="translate(49.74 514.20) scale(0.800 1)" font-size="5.89" text-anchor="middle" font-weight="bold" fill="#222" stroke="#222" stroke-width="0.15" dominant-baseline="central">10</text>
<text transform="translate(78.12 514.20) scale(0.800 1)" font-size="5.89" text-anchor="middle" font-weight="bold" fill="#222" stroke="#222" stroke-width="0.15" dominant-baseline="central">20</text>
<text transform="translate(106.50 514.20) scale(0.800 1)" font-size="5.89" text-anchor="middle" font-weight="bold" fill="#222" stroke="#222" stroke-width="0.15" dominant-baseline="central">30</text>
<text transform="translate(134.88 514.20) scale(0.800 1)" font-size="5.89" text-anchor="middle" font-weight="bold" fill="#222" stroke="#222" stroke-width="0.15" dominant-baseline="central">40</text>
<text transform="translate(163.26 514.20) scale(0.800 1)" font-size="5.89" text-anchor="middle" font-weight="bold" fill="#222" stroke="#222" stroke-width="0.15" dominant-baseline="central">50</text>
<text transform="translate(191.64 514.20) scale(0.800 1)" font-size="5.89" text-anchor="middle" font-weight="bold" fill="#222" stroke="#222" stroke-width="0.15" dominant-baseline="central">60</text>
<text transform="translate(119.40 521.30) scale(0.861 1)" font-size="5.83" text-anchor="middle" font-weight="bold" fill="#222" stroke="#222" stroke-width="0.28" dominant-baseline="central">No. of Samples</text>
<text transform="translate(11.95 468.80) rotate(-90) scale(0.873 1)" font-size="5.83" text-anchor="middle" font-weight="bold" fill="#222" stroke="#222" stroke-width="0.28" dominant-baseline="central">xy-RMSE (m)</text>
<text x="4.60" y="540.80" font-size="12" font-family='"Liberation Serif", serif' fill="#1a1a1a" stroke="#1a1a1a" stroke-width="0.18" textLength="101.8" lengthAdjust="spacingAndGlyphs" xml:space="preserve">(<tspan font-weight="normal">g</tspan>) RMSE in position</text>
<rect x="272.8" y="429.5" width="190.39999999999998" height="79.30000000000001" fill="#fff"/>
<line x1="298.27" y1="429.5" x2="298.27" y2="508.8" stroke="#e4e4e4" stroke-width="0.5"/>
<line x1="326.57" y1="429.5" x2="326.57" y2="508.8" stroke="#e4e4e4" stroke-width="0.5"/>
<line x1="354.87" y1="429.5" x2="354.87" y2="508.8" stroke="#e4e4e4" stroke-width="0.5"/>
<line x1="383.17" y1="429.5" x2="383.17" y2="508.8" stroke="#e4e4e4" stroke-width="0.5"/>
<line x1="411.47" y1="429.5" x2="411.47" y2="508.8" stroke="#e4e4e4" stroke-width="0.5"/>
<line x1="439.77" y1="429.5" x2="439.77" y2="508.8" stroke="#e4e4e4" stroke-width="0.5"/>
<line x1="272.8" y1="445.36" x2="463.2" y2="445.36" stroke="#e4e4e4" stroke-width="0.5"/>
<line x1="272.8" y1="461.22" x2="463.2" y2="461.22" stroke="#e4e4e4" stroke-width="0.5"/>
<line x1="272.8" y1="477.08" x2="463.2" y2="477.08" stroke="#e4e4e4" stroke-width="0.5"/>
<line x1="272.8" y1="492.94" x2="463.2" y2="492.94" stroke="#e4e4e4" stroke-width="0.5"/>
<path d="M272.80,473.91 L275.17,476.53 L277.54,478.92 L279.91,481.09 L282.28,483.08 L284.65,484.88 L287.02,486.53 L289.39,488.03 L291.76,489.40 L294.13,490.64 L296.50,491.77 L298.87,492.81 L301.24,493.75 L303.61,494.61 L305.98,495.39 L308.35,496.10 L310.72,496.75 L313.09,497.34 L315.46,497.88 L317.83,498.37 L320.20,498.82 L322.57,499.23 L324.94,499.60 L327.31,499.94 L329.68,500.25 L332.05,500.53 L334.42,500.78 L336.79,501.02 L339.16,501.23 L341.53,501.42 L343.90,501.60 L346.27,501.76 L348.64,501.91 L351.01,502.04 L353.38,502.16 L355.75,502.27 L358.12,502.37 L360.49,502.46 L362.86,502.55 L365.23,502.62 L367.61,502.69 L369.98,502.76 L372.35,502.82 L374.72,502.87 L377.09,502.92 L379.46,502.96 L381.83,503.00 L384.20,503.04 L386.57,503.07 L388.94,503.10 L391.31,503.13 L393.68,503.15 L396.05,503.17 L398.42,503.19 L400.79,503.21 L403.16,503.23 L405.53,503.25 L407.90,503.26 L410.27,503.27 L412.64,503.29 L415.01,503.30 L417.38,503.31 L419.75,503.32 L422.12,503.32 L424.49,503.33 L426.86,503.34 L429.23,503.34 L431.60,503.35 L433.97,503.35 L436.34,503.36 L438.71,503.36 L441.08,503.37 L443.45,503.37 L445.82,503.37 L448.19,503.38 L450.56,503.38 L452.93,503.38 L455.30,503.38 L457.67,503.39 L460.04,503.39 L462.41,503.39" fill="none" stroke="#222" stroke-width="0.9" stroke-linejoin="round" opacity="1"/>
<path d="M272.80,476.68 L275.17,479.09 L277.54,481.25 L279.91,483.20 L282.28,484.96 L284.65,486.54 L287.02,487.96 L289.39,489.25 L291.76,490.40 L294.13,491.44 L296.50,492.38 L298.87,493.22 L301.24,493.98 L303.61,494.67 L305.98,495.28 L308.35,495.84 L310.72,496.34 L313.09,496.79 L315.46,497.20 L317.83,497.56 L320.20,497.89 L322.57,498.19 L324.94,498.45 L327.31,498.69 L329.68,498.91 L332.05,499.10 L334.42,499.28 L336.79,499.44 L339.16,499.58 L341.53,499.71 L343.90,499.82 L346.27,499.93 L348.64,500.02 L351.01,500.11 L353.38,500.18 L355.75,500.25 L358.12,500.31 L360.49,500.37 L362.86,500.42 L365.23,500.46 L367.61,500.50 L369.98,500.54 L372.35,500.57 L374.72,500.60 L377.09,500.63 L379.46,500.65 L381.83,500.67 L384.20,500.68 L386.57,500.68 L388.94,500.68 L391.31,500.67 L393.68,500.67 L396.05,500.66 L398.42,500.65 L400.79,500.64 L403.16,500.63 L405.53,500.61 L407.90,500.60 L410.27,500.59 L412.64,500.57 L415.01,500.56 L417.38,500.54 L419.75,500.53 L422.12,500.51 L424.49,500.49 L426.86,500.48 L429.23,500.46 L431.60,500.44 L433.97,500.42 L436.34,500.41 L438.71,500.39 L441.08,500.37 L443.45,500.35 L445.82,500.33 L448.19,500.31 L450.56,500.29 L452.93,500.28 L455.30,500.26 L457.67,500.24 L460.04,500.22 L462.41,500.20" fill="none" stroke="#0000ff" stroke-width="1.1" stroke-dasharray="1.1 1.35" stroke-linejoin="round" opacity="1"/>
<path d="M272.80,473.91 L275.17,472.28 L277.54,470.99 L279.91,471.74 L282.28,472.76 L284.65,473.75 L287.02,474.70 L289.39,475.61 L291.76,476.48 L294.13,477.32 L296.50,478.12 L298.87,478.89 L301.24,479.63 L303.61,480.34 L305.98,481.02 L308.35,481.67 L310.72,482.30 L313.09,482.90 L315.46,483.47 L317.83,484.02 L320.20,484.55 L322.57,485.06 L324.94,485.54 L327.31,486.01 L329.68,486.46 L332.05,486.88 L334.42,487.29 L336.79,487.69 L339.16,488.07 L341.53,488.43 L343.90,488.78 L346.27,489.11 L348.64,489.43 L351.01,489.74 L353.38,490.03 L355.75,490.31 L358.12,490.58 L360.49,490.84 L362.86,491.09 L365.23,491.33 L367.61,491.56 L369.98,491.78 L372.35,491.99 L374.72,492.19 L377.09,492.38 L379.46,492.57 L381.83,492.75 L384.20,492.92 L386.57,493.08 L388.94,493.24 L391.31,493.39 L393.68,493.53 L396.05,493.67 L398.42,493.80 L400.79,493.93 L403.16,494.05 L405.53,494.17 L407.90,494.28 L410.27,494.39 L412.64,494.49 L415.01,494.59 L417.38,494.68 L419.75,494.77 L422.12,494.85 L424.49,494.93 L426.86,495.01 L429.23,495.08 L431.60,495.14 L433.97,495.19 L436.34,495.24 L438.71,495.27 L441.08,495.29 L443.45,495.29 L445.82,495.26 L448.19,495.19 L450.56,495.08 L452.93,494.89 L455.30,494.61 L457.67,494.19 L460.04,493.59 L462.41,492.73" fill="none" stroke="#ff0000" stroke-width="1.1" stroke-dasharray="1.1 1.35" stroke-linejoin="round" opacity="1"/>
<path d="M272.80,431.09 L275.17,432.68 L277.54,434.88 L279.91,437.32 L282.28,439.87 L284.65,442.46 L287.02,445.05 L289.39,447.60 L291.76,450.09 L294.13,452.51 L296.50,454.84 L298.87,457.07 L301.24,459.20 L303.61,461.23 L305.98,463.15 L308.35,464.97 L310.72,466.68 L313.09,468.28 L315.46,469.79 L317.83,471.19 L320.20,472.51 L322.57,473.73 L324.94,474.87 L327.31,475.92 L329.68,476.90 L332.05,477.80 L334.42,478.64 L336.79,479.41 L339.16,480.12 L341.53,480.77 L343.90,481.37 L346.27,481.92 L348.64,482.42 L351.01,482.89 L353.38,483.31 L355.75,483.69 L358.12,484.04 L360.49,484.37 L362.86,484.66 L365.23,484.92 L367.61,485.16 L369.98,485.38 L372.35,485.58 L374.72,485.76 L377.09,485.93 L379.46,486.07 L381.83,486.21 L384.20,486.33 L386.57,486.44 L388.94,486.54 L391.31,486.62 L393.68,486.70 L396.05,486.78 L398.42,486.84 L400.79,486.90 L403.16,486.95 L405.53,487.00 L407.90,487.04 L410.27,487.08 L412.64,487.11 L415.01,487.14 L417.38,487.17 L419.75,487.19 L422.12,487.21 L424.49,487.23 L426.86,487.25 L429.23,487.27 L431.60,487.28 L433.97,487.29 L436.34,487.30 L438.71,487.31 L441.08,487.32 L443.45,487.33 L445.82,487.34 L448.19,487.34 L450.56,487.35 L452.93,487.35 L455.30,487.36 L457.67,487.36 L460.04,487.36 L462.41,487.37" fill="none" stroke="#00ee00" stroke-width="1.1" stroke-dasharray="1.1 1.35" stroke-linejoin="round" opacity="1"/>
<path d="M272.8,429.5 L463.2,429.5 L463.2,508.8" fill="none" stroke="#b4b4b4" stroke-width="0.5"/>
<path d="M272.8,429.5 L272.8,508.8 L463.2,508.8" fill="none" stroke="#6a6a6a" stroke-width="0.5"/>
<rect x="422.8" y="429.3" width="40.30000000000001" height="24.69999999999999" fill="#fff" stroke="#777" stroke-width="0.45"/>
<line x1="423.6" y1="432.50" x2="430.8" y2="432.50" stroke="#0000ff" stroke-width="1.0" stroke-dasharray="1.0 1.4" stroke-dashoffset="-0.3"/>
<text transform="translate(432.20 432.50) scale(0.781 1)" font-size="5.50" text-anchor="start" font-weight="bold" fill="#111" stroke="#111" stroke-width="0.2" dominant-baseline="central">Target 1 RMSE</text>
<line x1="423.6" y1="438.64" x2="430.8" y2="438.64" stroke="#ff0000" stroke-width="1.0" stroke-dasharray="1.0 1.4" stroke-dashoffset="-0.3"/>
<text transform="translate(432.20 438.64) scale(0.781 1)" font-size="5.50" text-anchor="start" font-weight="bold" fill="#111" stroke="#111" stroke-width="0.2" dominant-baseline="central">Target 2 RMSE</text>
<line x1="423.6" y1="444.78" x2="430.8" y2="444.78" stroke="#00ee00" stroke-width="1.0" stroke-dasharray="1.0 1.4" stroke-dashoffset="-0.3"/>
<text transform="translate(432.20 444.78) scale(0.781 1)" font-size="5.50" text-anchor="start" font-weight="bold" fill="#111" stroke="#111" stroke-width="0.2" dominant-baseline="central">Target 3 RMSE</text>
<line x1="423.6" y1="450.92" x2="430.8" y2="450.92" stroke="#444" stroke-width="0.75"/>
<text transform="translate(432.20 450.92) scale(0.781 1)" font-size="5.50" text-anchor="start" font-weight="bold" fill="#111" stroke="#111" stroke-width="0.2" dominant-baseline="central">PCRLB</text>
<text transform="translate(367.30 424.00) scale(0.771 1)" font-size="6.66" text-anchor="middle" font-weight="bold" fill="#111" stroke="#111" stroke-width="0.28" dominant-baseline="central">RMSE in Velocity</text>
<text transform="translate(270.80 429.90) scale(0.800 1)" font-size="5.89" text-anchor="end" font-weight="bold" fill="#222" stroke="#222" stroke-width="0.15" dominant-baseline="central">1</text>
<text transform="translate(270.80 445.76) scale(0.800 1)" font-size="5.89" text-anchor="end" font-weight="bold" fill="#222" stroke="#222" stroke-width="0.15" dominant-baseline="central">0.8</text>
<text transform="translate(270.80 461.62) scale(0.800 1)" font-size="5.89" text-anchor="end" font-weight="bold" fill="#222" stroke="#222" stroke-width="0.15" dominant-baseline="central">0.6</text>
<text transform="translate(270.80 477.48) scale(0.800 1)" font-size="5.89" text-anchor="end" font-weight="bold" fill="#222" stroke="#222" stroke-width="0.15" dominant-baseline="central">0.4</text>
<text transform="translate(270.80 493.34) scale(0.800 1)" font-size="5.89" text-anchor="end" font-weight="bold" fill="#222" stroke="#222" stroke-width="0.15" dominant-baseline="central">0.2</text>
<text transform="translate(270.80 509.20) scale(0.800 1)" font-size="5.89" text-anchor="end" font-weight="bold" fill="#222" stroke="#222" stroke-width="0.15" dominant-baseline="central">0</text>
<text transform="translate(298.27 514.20) scale(0.800 1)" font-size="5.89" text-anchor="middle" font-weight="bold" fill="#222" stroke="#222" stroke-width="0.15" dominant-baseline="central">10</text>
<text transform="translate(326.57 514.20) scale(0.800 1)" font-size="5.89" text-anchor="middle" font-weight="bold" fill="#222" stroke="#222" stroke-width="0.15" dominant-baseline="central">20</text>
<text transform="translate(354.87 514.20) scale(0.800 1)" font-size="5.89" text-anchor="middle" font-weight="bold" fill="#222" stroke="#222" stroke-width="0.15" dominant-baseline="central">30</text>
<text transform="translate(383.17 514.20) scale(0.800 1)" font-size="5.89" text-anchor="middle" font-weight="bold" fill="#222" stroke="#222" stroke-width="0.15" dominant-baseline="central">40</text>
<text transform="translate(411.47 514.20) scale(0.800 1)" font-size="5.89" text-anchor="middle" font-weight="bold" fill="#222" stroke="#222" stroke-width="0.15" dominant-baseline="central">50</text>
<text transform="translate(439.77 514.20) scale(0.800 1)" font-size="5.89" text-anchor="middle" font-weight="bold" fill="#222" stroke="#222" stroke-width="0.15" dominant-baseline="central">60</text>
<text transform="translate(368.00 521.30) scale(0.861 1)" font-size="5.83" text-anchor="middle" font-weight="bold" fill="#222" stroke="#222" stroke-width="0.28" dominant-baseline="central">No. of Samples</text>
<text transform="translate(260.05 468.90) rotate(-90) scale(0.903 1)" font-size="5.83" text-anchor="middle" font-weight="bold" fill="#222" stroke="#222" stroke-width="0.28" dominant-baseline="central">Velocity RMSE (m/s)</text>
<text x="258.10" y="540.50" font-size="12" font-family='"Liberation Serif", serif' fill="#1a1a1a" stroke="#1a1a1a" stroke-width="0.18" textLength="100.0" lengthAdjust="spacingAndGlyphs" xml:space="preserve">(<tspan font-weight="bold">h</tspan>) RMSE in velocity</text>
</g>
</svg>
</body></html>
